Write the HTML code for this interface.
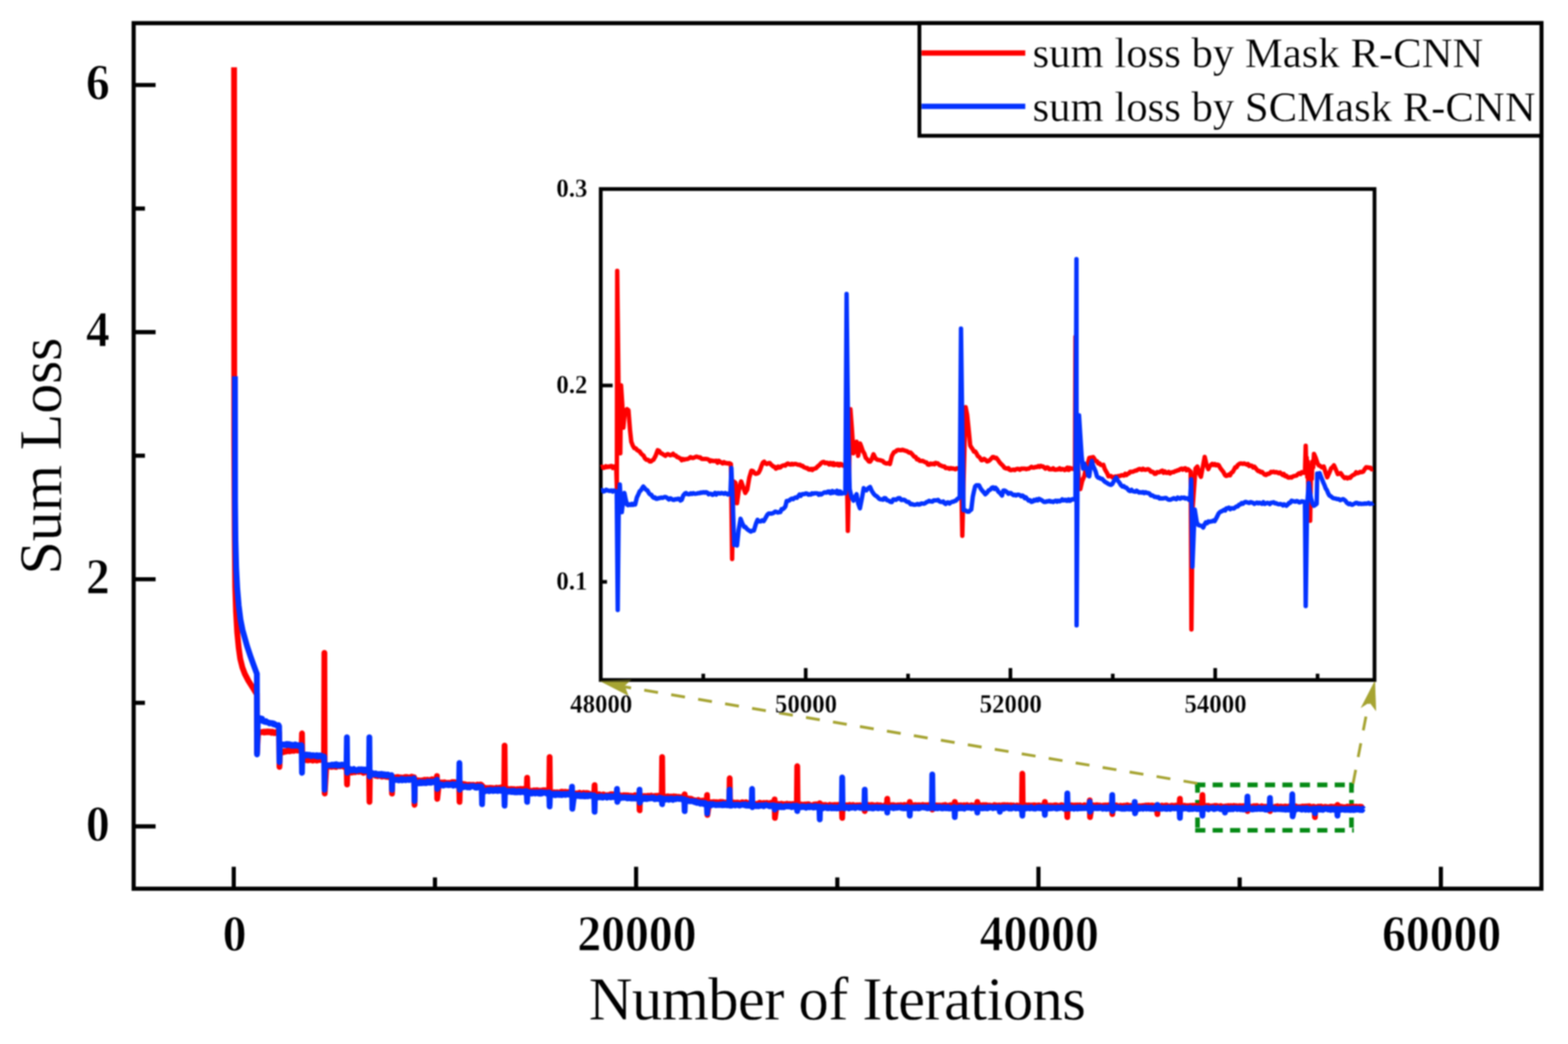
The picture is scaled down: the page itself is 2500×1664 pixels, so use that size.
<!DOCTYPE html>
<html lang="en">
<head>
<meta charset="utf-8">
<title>Sum Loss vs Number of Iterations</title>
<style>
html,body{margin:0;padding:0;background:#fff;}
body{width:2500px;height:1664px;overflow:hidden;}
svg{display:block;filter:blur(1px);}
</style>
</head>
<body>
<svg width="2500" height="1664" viewBox="0 0 2500 1664" role="img" aria-label="Sum loss versus number of iterations">
<rect width="2500" height="1664" fill="#fff"/>
<g fill="none" stroke="#058a14" stroke-width="7.4" stroke-dasharray="16.2 11.6">
<path d="M1905.6 1251 L2158.5 1251"/>
<path d="M1905.6 1323.4 L2158.5 1323.4"/>
<path d="M1909.3 1247.3 L1909.3 1327.1"/>
<path d="M2154.8 1247.3 L2154.8 1327.1"/>
</g>
<g fill="none" stroke-linejoin="round" stroke-linecap="butt" stroke-width="9.3">
<path stroke="#ff0000" d="M373.2 107.2 L373.5 700 L374.2 850 L375 935 L376.3 975 L378.2 1008 L380.5 1032 L383 1050 L386.5 1064 L390.3 1074 L396 1085 L403.6 1097 L408.5 1105 L409.5 1105 L409.7 1200 L411.5 1168 L418.7 1166.7 L419.8 1166.3 L420.9 1167.6 L422 1166.1 L423.1 1167.3 L424.2 1166.9 L425.3 1166.1 L426.4 1167.2 L427.5 1166 L428.6 1167 L429.7 1166.1 L430.8 1166.1 L431.9 1167 L433 1168 L434.1 1166.2 L435.2 1166.5 L436.3 1167.5 L437.4 1168.4 L438.5 1167.4 L439.6 1166.9 L440.7 1168.4 L441.8 1166 L442.9 1168.1 L444 1166.7 L444.8 1167.2 L445 1167.2 L445.6 1222.4 L446.2 1198.6 L448.6 1197.7 L449.7 1197.5 L450.8 1197.9 L451.9 1199 L453 1197.2 L454.1 1198.1 L455.2 1198.2 L456.3 1197.3 L457.4 1197.6 L458.5 1196.2 L459.6 1196.1 L460.7 1196.3 L461.8 1197.4 L462.9 1196.6 L464 1196.2 L465.1 1196.8 L466.2 1196.3 L467.3 1195.8 L468.4 1196.9 L469.5 1196.5 L470.6 1195.2 L471.7 1195.9 L472.8 1195.7 L473.9 1196.4 L475 1195.9 L476.1 1194.6 L477.2 1196.3 L478.3 1193.9 L479.4 1194.5 L480.5 1195.3 L480.7 1194.6 L480.9 1194.5 L481.5 1169 L482.1 1211 L484.5 1210.1 L485.6 1211 L486.7 1209.8 L487.8 1211.4 L488.9 1211.7 L490 1211.2 L491.1 1212 L492.2 1210.5 L493.3 1211.5 L494.4 1211.2 L495.5 1211.2 L496.6 1210.9 L497.7 1211.9 L498.8 1212.2 L499.9 1210.9 L501 1211.4 L502.1 1209.9 L503.2 1211.5 L504.3 1211.4 L505.4 1212.3 L506.5 1211.8 L507.6 1210.4 L508.7 1210.7 L509.8 1211.4 L510.9 1209.8 L512 1210.9 L513.1 1210.1 L514.2 1210 L515.3 1209.9 L516.4 1211.7 L516.6 1211 L517.2 1040.6 L517.7 1264.8 L520.4 1220.3 L521.5 1220.6 L522.6 1221 L523.7 1222.3 L524.8 1220.2 L525.9 1221.2 L527 1221.4 L528.1 1222.3 L529.2 1222.1 L530.3 1222.2 L531.4 1220.7 L532.5 1221.1 L533.6 1220.9 L534.7 1222.3 L535.8 1222.5 L536.9 1220.4 L538 1220.5 L539.1 1220.6 L540.2 1220.6 L541.3 1221.3 L542.4 1221.5 L543.5 1220.7 L544.6 1220 L545.7 1221.1 L546.8 1221 L547.9 1221.5 L549 1222.5 L550.1 1221.8 L551.2 1221.3 L552.3 1221.6 L552.5 1221.3 L552.7 1221.3 L553.3 1250.3 L553.9 1230.2 L556.3 1230.7 L557.4 1229.1 L558.5 1231.3 L559.6 1231 L560.7 1231.3 L561.8 1231.2 L562.9 1230.1 L564 1230.2 L565.1 1229.5 L566.2 1230.9 L567.3 1229.4 L568.4 1229.5 L569.5 1229.9 L570.6 1229.8 L571.7 1230.3 L572.8 1229.6 L573.9 1229.5 L575 1229.9 L576.1 1229.8 L577.2 1230.5 L578.3 1229.7 L579.4 1231.9 L580.5 1231.3 L581.6 1230.1 L582.7 1230.4 L583.8 1230.7 L584.9 1230.8 L586 1230.2 L587.1 1232.1 L588.2 1232.5 L588.4 1231.3 L588.5 1231.3 L589.1 1278.2 L589.8 1235 L592.1 1234.9 L593.2 1235.1 L594.4 1234.1 L595.5 1234.3 L596.6 1235 L597.7 1234.9 L598.8 1236.5 L599.9 1234.9 L601 1234.6 L602.1 1237.2 L603.2 1236.2 L604.3 1235.3 L605.4 1236.4 L606.5 1235.2 L607.6 1236.6 L608.7 1237.9 L609.8 1237.7 L610.9 1237.4 L612 1236.4 L613.1 1236.8 L614.2 1236.3 L615.3 1238 L616.4 1237.5 L617.5 1238.3 L618.6 1237.2 L619.7 1237 L620.8 1238.7 L621.9 1239.2 L623 1239 L624.1 1239 L624.2 1238.2 L624.4 1238.3 L625 1264.8 L625.6 1239.7 L628 1240.5 L629.1 1240.3 L630.2 1238.9 L631.3 1239.7 L632.4 1239.2 L633.5 1238.3 L634.6 1238.3 L635.7 1238.9 L636.8 1238.8 L637.9 1239.9 L639 1240.6 L640.1 1239.2 L641.2 1240.5 L642.3 1240.6 L643.4 1240.5 L644.5 1238.9 L645.6 1238.5 L646.7 1238.5 L647.8 1238.4 L648.9 1238.4 L650 1239.4 L651.1 1240.1 L652.2 1239.9 L653.3 1239 L654.4 1239.4 L655.5 1239.7 L656.6 1237.8 L657.7 1239.3 L658.8 1239.9 L659.9 1239.6 L660.1 1238.8 L660.3 1238.8 L660.9 1282.8 L661.5 1244.6 L663.9 1245.3 L665 1244.5 L666.1 1243.7 L667.2 1245.2 L668.3 1244 L669.4 1245.1 L670.5 1245.5 L671.6 1243.9 L672.7 1243.9 L673.8 1245.2 L674.9 1244.6 L676 1243.1 L677.1 1242.9 L678.2 1242.9 L679.3 1244.8 L680.4 1244.5 L681.5 1242.7 L682.6 1244.4 L683.7 1244.8 L684.8 1243.9 L685.9 1243 L687 1243.5 L688.1 1242.3 L689.2 1242 L690.3 1244.4 L691.4 1243.5 L692.5 1243.1 L693.6 1244.1 L694.7 1242.7 L695.8 1243.8 L696 1242.8 L696.6 1236.9 L697.1 1273.3 L699.8 1248.6 L700.9 1247 L702 1247.2 L703.1 1247.3 L704.2 1247.1 L705.3 1248 L706.4 1247.2 L707.5 1247.6 L708.6 1246.8 L709.7 1248.9 L710.8 1247.4 L711.9 1247.7 L713 1248 L714.1 1248.9 L715.2 1247.6 L716.3 1248.9 L717.4 1247.8 L718.5 1247.9 L719.6 1247.9 L720.7 1246.5 L721.8 1247.6 L722.9 1247 L724 1246.5 L725.1 1248.6 L726.2 1246.9 L727.3 1247.7 L728.4 1248.4 L729.5 1247.9 L730.6 1247.3 L731.7 1247.8 L731.9 1247.8 L732.1 1247.8 L732.7 1278.2 L733.3 1250.3 L735.7 1250.4 L736.8 1251.1 L737.9 1249.3 L739 1250.6 L740.1 1249.8 L741.2 1249.9 L742.3 1251.2 L743.4 1250.6 L744.5 1250.8 L745.6 1251.3 L746.7 1251.7 L747.8 1250.6 L748.9 1251 L750 1250.8 L751.1 1250.8 L752.2 1251.4 L753.3 1250.8 L754.4 1251 L755.5 1250.9 L756.6 1252.1 L757.7 1251.6 L758.8 1252.1 L759.9 1252.3 L761 1250.5 L762.1 1251.3 L763.2 1252.4 L764.3 1252.1 L765.4 1250.3 L766.5 1250.3 L767.6 1251.2 L767.8 1251.4 L771.6 1255.8 L772.7 1256.2 L773.8 1255.7 L774.9 1257.3 L776 1257.5 L777.1 1257.8 L778.2 1255.8 L779.3 1257.3 L780.4 1257.1 L781.5 1255.7 L782.6 1257.6 L783.7 1257.8 L784.8 1255.8 L785.9 1257.7 L787 1256.2 L788.1 1256.4 L789.2 1257.7 L790.3 1257.3 L791.4 1255.5 L792.5 1256.2 L793.6 1256.3 L794.7 1255.9 L795.8 1255.5 L796.9 1255.7 L798 1256.8 L799.1 1254.9 L800.2 1256.3 L801.3 1255.9 L802.4 1254.8 L803.5 1255.6 L803.7 1256 L803.9 1256 L804.5 1188.4 L805.1 1258.6 L807.5 1258.9 L808.6 1258.6 L809.7 1257.5 L810.8 1259.9 L811.9 1259.3 L813 1259.8 L814.1 1257.6 L815.2 1258 L816.3 1257.4 L817.4 1259.3 L818.5 1258 L819.6 1257.6 L820.7 1258.4 L821.8 1259.7 L822.9 1259.4 L824 1258 L825.1 1257.7 L826.2 1259.7 L827.3 1258.8 L828.4 1259.1 L829.5 1257.5 L830.6 1257.4 L831.7 1259.1 L832.8 1258.4 L833.9 1257.5 L835 1259.7 L836.1 1258.9 L837.2 1259.4 L838.3 1257.5 L839.4 1259.5 L839.6 1258.6 L839.8 1258.6 L840.4 1239.7 L841 1260.7 L843.4 1259.6 L844.5 1261.6 L845.6 1260.6 L846.7 1260.3 L847.8 1260.8 L848.9 1261.8 L850 1260.1 L851.1 1259.7 L852.2 1260.8 L853.3 1260 L854.4 1259.7 L855.5 1259.8 L856.6 1259.5 L857.7 1259.9 L858.8 1260.2 L859.9 1260.2 L861 1261.4 L862.1 1260.2 L863.2 1260.7 L864.3 1259.9 L865.4 1260.3 L866.5 1259.4 L867.6 1260.1 L868.7 1259.4 L869.8 1261.3 L870.9 1260.8 L872 1259.9 L873.1 1260.6 L874.2 1261.8 L875.3 1259.7 L875.5 1260.7 L875.7 1260.7 L876.3 1206.6 L876.9 1263.1 L879.3 1263.9 L880.4 1262.9 L881.5 1263.1 L882.6 1264 L883.7 1262.8 L884.8 1263.1 L885.9 1263.6 L887 1264.4 L888.1 1262.7 L889.2 1264 L890.3 1263.6 L891.4 1263.5 L892.5 1262.9 L893.6 1262.7 L894.7 1261.9 L895.8 1262.1 L896.9 1262 L898 1263.7 L899.1 1262.5 L900.2 1262.2 L901.3 1262 L902.4 1264 L903.5 1264.1 L904.6 1263.5 L905.7 1262.5 L906.8 1262.4 L907.9 1262.6 L909 1263 L910.1 1262.2 L911.2 1263 L911.4 1263.1 L915.2 1264.2 L916.3 1266.1 L917.4 1266.1 L918.5 1265 L919.6 1264.3 L920.7 1266.2 L921.8 1264.5 L922.9 1264.6 L924 1263.7 L925.1 1264.7 L926.2 1265 L927.3 1265.1 L928.4 1264.3 L929.5 1265.1 L930.6 1263.8 L931.7 1264.5 L932.8 1264.1 L933.9 1264.9 L935 1264 L936.1 1264 L937.2 1264.7 L938.3 1264.5 L939.4 1265.5 L940.5 1265.3 L941.6 1265.9 L942.7 1265.7 L943.8 1265.9 L944.9 1266.3 L946 1265.1 L947.1 1264.9 L947.2 1265.4 L947.4 1265.4 L948 1251.4 L948.6 1267 L951 1268.3 L952.1 1266.1 L953.2 1267.6 L954.4 1267.4 L955.5 1265.8 L956.6 1267.9 L957.7 1268 L958.8 1267.3 L959.9 1267.6 L961 1267.8 L962.1 1266.1 L963.2 1267.1 L964.3 1267 L965.4 1267.9 L966.5 1267.8 L967.6 1267.8 L968.7 1267.2 L969.8 1268 L970.9 1267.5 L972 1267.5 L973.1 1266.3 L974.2 1265.8 L975.3 1266 L976.4 1266.6 L977.5 1266 L978.6 1267.9 L979.7 1267.2 L980.8 1267.3 L981.9 1267.3 L983 1267.5 L983.1 1267 L986.9 1268.5 L988 1267.2 L989.1 1269.3 L990.2 1269.1 L991.3 1268.5 L992.4 1268.6 L993.5 1268.9 L994.6 1267.4 L995.7 1269.1 L996.8 1267.9 L997.9 1267.4 L999 1267.9 L1000.1 1269.1 L1001.2 1267.7 L1002.3 1269.1 L1003.4 1269.7 L1004.5 1268.5 L1005.6 1268.2 L1006.7 1268.4 L1007.8 1269 L1008.9 1269.2 L1010 1268.8 L1011.1 1268.9 L1012.2 1267.4 L1013.3 1267.6 L1014.4 1267.9 L1015.5 1269.1 L1016.6 1268 L1017.7 1268.7 L1018.8 1267.2 L1019 1268.5 L1019.2 1268.5 L1019.8 1291.5 L1020.4 1269.3 L1022.8 1268.2 L1023.9 1268.7 L1025 1269.7 L1026.1 1269.8 L1027.2 1269.8 L1028.3 1268.8 L1029.4 1269.3 L1030.5 1269.2 L1031.6 1269.2 L1032.7 1268.3 L1033.8 1270.3 L1034.9 1268.5 L1036 1270.5 L1037.1 1270.4 L1038.2 1268 L1039.3 1269.2 L1040.4 1270.1 L1041.5 1270.5 L1042.6 1269.2 L1043.7 1268.7 L1044.8 1268.5 L1045.9 1270.5 L1047 1268.5 L1048.1 1269.5 L1049.2 1268.4 L1050.3 1269.4 L1051.4 1270.5 L1052.5 1268.3 L1053.6 1270.1 L1054.7 1269.3 L1054.9 1269.3 L1055.1 1269.3 L1055.7 1206.6 L1056.3 1270.3 L1058.7 1271.3 L1059.8 1270.9 L1060.9 1269.6 L1062 1271.4 L1063.1 1270.3 L1064.2 1269.1 L1065.3 1269.1 L1066.4 1270.4 L1067.5 1270.3 L1068.6 1269.9 L1069.7 1269.5 L1070.8 1270 L1071.9 1270 L1073 1271.3 L1074.1 1269.2 L1075.2 1271.1 L1076.3 1271.4 L1077.4 1269.5 L1078.5 1271.6 L1079.6 1271.1 L1080.7 1271.6 L1081.8 1270 L1082.9 1270.2 L1084 1270.3 L1085.1 1271.8 L1086.2 1270.8 L1087.3 1270.2 L1088.4 1270.4 L1089.5 1270 L1090.6 1269.4 L1090.8 1270.6 L1091 1270.6 L1091.6 1266 L1092.2 1272.8 L1094.6 1271.8 L1095.7 1273.9 L1096.8 1272.6 L1097.9 1274.5 L1099 1272.9 L1100.1 1273.1 L1101.2 1274 L1102.3 1273.3 L1103.4 1274 L1104.5 1275.7 L1105.6 1275.7 L1106.7 1275.7 L1107.8 1275.4 L1108.9 1276.3 L1110 1276.6 L1111.1 1275.7 L1112.2 1276.4 L1113.3 1274.8 L1114.4 1276.8 L1115.5 1276.2 L1116.6 1277.2 L1117.7 1277.1 L1118.8 1276.4 L1119.9 1275.9 L1121 1278.4 L1122.1 1276.5 L1123.2 1277.6 L1124.3 1277.5 L1125.4 1277.5 L1126.5 1278.9 L1126.7 1278.3 L1127.3 1267.2 L1127.8 1298.8 L1130.5 1280.4 L1131.6 1278.6 L1132.7 1279.6 L1133.8 1278.7 L1134.9 1279.3 L1136 1278.9 L1137.1 1278.3 L1138.2 1278.3 L1139.3 1278.4 L1140.4 1280.3 L1141.5 1279.2 L1142.6 1278.5 L1143.7 1280.3 L1144.8 1280.5 L1145.9 1279.1 L1147 1278.3 L1148.1 1278.4 L1149.2 1278.1 L1150.3 1278.8 L1151.4 1278.1 L1152.5 1278.5 L1153.6 1278.6 L1154.7 1279.4 L1155.8 1280.2 L1156.9 1279.8 L1158 1279 L1159.1 1279 L1160.2 1279.3 L1161.3 1278.9 L1162.4 1278.8 L1162.6 1279.2 L1162.8 1279.2 L1163.4 1240.5 L1164 1279.9 L1166.4 1278.8 L1167.5 1279.3 L1168.6 1281.1 L1169.7 1278.9 L1170.8 1279.9 L1171.9 1280.2 L1173 1280.8 L1174.1 1279.2 L1175.2 1279.3 L1176.3 1279.2 L1177.4 1279.6 L1178.5 1279.8 L1179.6 1281.1 L1180.7 1280.8 L1181.8 1280.9 L1182.9 1278.7 L1184 1278.7 L1185.1 1280.4 L1186.2 1280.9 L1187.3 1279.8 L1188.4 1280.1 L1189.5 1278.6 L1190.6 1279.6 L1191.7 1281 L1192.8 1280.7 L1193.9 1280.8 L1195 1281.1 L1196.1 1279.2 L1197.2 1278.9 L1198.3 1279 L1198.5 1279.9 L1202.3 1280.8 L1203.4 1281.2 L1204.5 1281.8 L1205.6 1281.3 L1206.7 1281.1 L1207.8 1281.4 L1208.9 1280.6 L1210 1280.8 L1211.1 1279.5 L1212.2 1281.4 L1213.3 1280 L1214.4 1281.8 L1215.5 1281.1 L1216.6 1280.2 L1217.7 1279.7 L1218.8 1280.1 L1219.9 1281.1 L1221 1281.2 L1222.1 1279.7 L1223.2 1279.6 L1224.3 1280.8 L1225.4 1280.9 L1226.5 1280.4 L1227.6 1280 L1228.7 1281 L1229.8 1279.4 L1230.9 1280.2 L1232 1280.6 L1233.1 1281.9 L1234.2 1281.1 L1234.4 1280.7 L1235 1274.2 L1235.5 1303.6 L1238.2 1283.2 L1239.3 1282.1 L1240.4 1281.5 L1241.5 1281.5 L1242.6 1283.4 L1243.7 1282.7 L1244.8 1281.7 L1245.9 1281 L1247 1282.2 L1248.1 1282.7 L1249.2 1282 L1250.3 1281.6 L1251.4 1282.6 L1252.5 1283.3 L1253.6 1281.5 L1254.7 1281 L1255.8 1281.8 L1256.9 1282 L1258 1282.7 L1259.1 1281.4 L1260.2 1283 L1261.3 1282.8 L1262.4 1282.2 L1263.5 1281.4 L1264.6 1283.4 L1265.7 1281.7 L1266.8 1283 L1267.9 1281.5 L1269 1281.5 L1270.1 1282.9 L1270.3 1282.2 L1270.5 1282.2 L1271.1 1221.2 L1271.7 1283 L1274.1 1282.5 L1275.2 1284.2 L1276.3 1283 L1277.4 1282.2 L1278.5 1282.3 L1279.6 1282.8 L1280.7 1283.4 L1281.8 1284.2 L1282.9 1282.1 L1284 1282.7 L1285.1 1282.3 L1286.2 1284.2 L1287.3 1282.1 L1288.4 1281.8 L1289.5 1281.9 L1290.6 1282.7 L1291.7 1284 L1292.8 1284 L1293.9 1283.6 L1295 1284.3 L1296.1 1284.1 L1297.2 1282.6 L1298.3 1282.2 L1299.4 1284.1 L1300.5 1283.6 L1301.6 1281.8 L1302.7 1283.4 L1303.8 1282.7 L1304.9 1282.7 L1306 1282.6 L1306.2 1283 L1306.4 1283 L1307 1280.2 L1307.5 1284 L1310 1283.2 L1311 1282.7 L1312.1 1283.4 L1313.2 1283.6 L1314.3 1285.2 L1315.4 1283 L1316.5 1285.2 L1317.6 1283.3 L1318.7 1283.7 L1319.8 1284.9 L1320.9 1284.9 L1322 1283.9 L1323.1 1282.9 L1324.2 1284 L1325.3 1283.7 L1326.4 1285.1 L1327.5 1283.2 L1328.6 1283.7 L1329.7 1285.1 L1330.8 1282.8 L1331.9 1283.8 L1333 1284.9 L1334.1 1284.7 L1335.2 1282.9 L1336.3 1282.8 L1337.4 1282.9 L1338.5 1285.2 L1339.6 1283.4 L1340.7 1284.7 L1341.8 1285.1 L1342 1284.1 L1342.2 1284.1 L1342.8 1303.6 L1343.4 1284.1 L1345.8 1283.7 L1346.9 1283.5 L1348 1285.3 L1349.1 1284.4 L1350.2 1283.5 L1351.3 1284.6 L1352.4 1283.6 L1353.5 1283.5 L1354.6 1282.8 L1355.7 1284.8 L1356.8 1285.2 L1357.9 1284.4 L1359 1285.2 L1360.1 1282.9 L1361.2 1283.4 L1362.3 1284 L1363.4 1285.3 L1364.5 1285.3 L1365.6 1283.8 L1366.7 1283.5 L1367.8 1283.9 L1368.9 1284.1 L1370 1285.2 L1371.1 1283.3 L1372.2 1284.9 L1373.3 1284.7 L1374.4 1285 L1375.5 1284.8 L1376.6 1284.4 L1377.7 1283.7 L1377.9 1284.1 L1378.1 1284.1 L1378.7 1292.8 L1379.3 1284.1 L1381.7 1283.7 L1382.8 1283.8 L1383.9 1284.9 L1385 1283 L1386.1 1283.4 L1387.2 1284.8 L1388.3 1283.5 L1389.4 1283 L1390.5 1282.9 L1391.6 1284.3 L1392.7 1283.7 L1393.8 1285.4 L1394.9 1285.1 L1396 1285.4 L1397.1 1283.5 L1398.2 1283.1 L1399.3 1283.1 L1400.4 1284.2 L1401.5 1284.7 L1402.6 1284 L1403.7 1283.5 L1404.8 1284 L1405.9 1284.5 L1407 1284.6 L1408.1 1284.8 L1409.2 1285.1 L1410.3 1284.6 L1411.4 1283.2 L1412.5 1285.1 L1413.6 1283.6 L1413.8 1284.2 L1414 1284.2 L1414.6 1273.2 L1415.2 1284.2 L1417.6 1284.4 L1418.7 1283.9 L1419.8 1284.8 L1420.9 1283.4 L1422 1283.5 L1423.1 1283.5 L1424.2 1283.3 L1425.3 1285.2 L1426.4 1284.4 L1427.5 1283.8 L1428.6 1283.9 L1429.7 1285.5 L1430.8 1284.2 L1431.9 1283.5 L1433 1285 L1434.1 1284.6 L1435.2 1285.5 L1436.3 1283.2 L1437.4 1284.2 L1438.5 1285.1 L1439.6 1285.1 L1440.7 1285.3 L1441.8 1283 L1442.9 1283.7 L1444 1283.2 L1445.1 1283.4 L1446.2 1285.5 L1447.3 1284.5 L1448.4 1285.4 L1449.5 1283.9 L1449.7 1284.2 L1449.9 1284.2 L1450.5 1278.1 L1451.1 1284.2 L1453.5 1285.2 L1454.6 1284.1 L1455.7 1283.6 L1456.8 1285 L1457.9 1285.4 L1459 1283.2 L1460.1 1284.5 L1461.2 1284.6 L1462.3 1283.5 L1463.4 1283.9 L1464.5 1283.3 L1465.6 1283.5 L1466.7 1283.6 L1467.8 1284.5 L1468.9 1284.7 L1470 1283.5 L1471.1 1283 L1472.2 1283.8 L1473.3 1284.7 L1474.4 1283.5 L1475.5 1283.8 L1476.6 1283.5 L1477.7 1285.1 L1478.8 1284.4 L1479.9 1283.2 L1481 1283.3 L1482.1 1284 L1483.2 1284.4 L1484.3 1284.7 L1485.4 1283.2 L1485.6 1284.3 L1485.8 1284.3 L1486.4 1290.3 L1487 1284.3 L1489.4 1283.4 L1490.5 1284.8 L1491.6 1284.1 L1492.7 1283.7 L1493.8 1283.8 L1494.9 1285.5 L1496 1283.8 L1497.1 1284.5 L1498.2 1283.9 L1499.3 1284.1 L1500.4 1285.3 L1501.5 1285.6 L1502.6 1284 L1503.7 1283.5 L1504.8 1284.9 L1505.9 1283.6 L1507 1283 L1508.1 1285.4 L1509.2 1284.1 L1510.3 1285.2 L1511.4 1284.1 L1512.5 1285.3 L1513.6 1284.2 L1514.7 1283.5 L1515.8 1283.1 L1516.9 1284.5 L1518 1284.7 L1519.1 1285.4 L1520.2 1283.3 L1521.3 1284.7 L1521.5 1284.4 L1521.7 1284.4 L1522.3 1278.2 L1522.9 1284.4 L1525.3 1284 L1526.4 1284.4 L1527.5 1283.4 L1528.6 1283.8 L1529.7 1284.4 L1530.8 1285.5 L1531.9 1283.4 L1533 1284.3 L1534.1 1285.2 L1535.2 1285.6 L1536.3 1283.6 L1537.4 1283.4 L1538.5 1285.5 L1539.6 1285.6 L1540.7 1284.3 L1541.8 1283.2 L1542.9 1285.5 L1544 1284.1 L1545.1 1285.4 L1546.2 1284.7 L1547.3 1285.2 L1548.4 1283.5 L1549.5 1285.1 L1550.6 1283.7 L1551.7 1284.2 L1552.8 1285.3 L1553.9 1285.3 L1555 1283.6 L1556.1 1283.7 L1557.2 1284.2 L1557.4 1284.4 L1557.6 1284.4 L1558.2 1278.2 L1558.8 1284.4 L1561.2 1284.5 L1562.3 1284.1 L1563.4 1283.4 L1564.5 1283.8 L1565.6 1285 L1566.7 1285.5 L1567.8 1283.2 L1568.9 1284.6 L1570 1285.1 L1571.1 1283.2 L1572.2 1285.3 L1573.3 1283.4 L1574.4 1284.7 L1575.5 1284.6 L1576.6 1284.8 L1577.7 1283.9 L1578.8 1284.2 L1579.9 1284.7 L1581 1284.3 L1582.1 1284.9 L1583.2 1284.3 L1584.3 1284.3 L1585.4 1283.2 L1586.5 1284.8 L1587.6 1284.4 L1588.7 1283.8 L1589.8 1285.1 L1590.9 1285.2 L1592 1284.4 L1593.1 1283.6 L1593.3 1284.5 L1597.1 1284.4 L1598.2 1283.5 L1599.3 1283.5 L1600.4 1284.3 L1601.5 1283.4 L1602.6 1284.3 L1603.7 1284.5 L1604.8 1283.3 L1605.9 1284.8 L1607 1283.4 L1608.1 1285.1 L1609.2 1285.2 L1610.3 1284.5 L1611.4 1283.3 L1612.5 1284.5 L1613.6 1284.2 L1614.7 1285.7 L1615.8 1283.6 L1616.9 1285.4 L1618 1285.8 L1619.1 1285.1 L1620.2 1285.3 L1621.3 1283.7 L1622.4 1285.8 L1623.5 1284.5 L1624.6 1285.7 L1625.7 1285.6 L1626.8 1283.7 L1627.9 1285.3 L1629 1285.6 L1629.2 1284.5 L1629.4 1284.5 L1630 1233.2 L1630.6 1284.5 L1633 1283.4 L1634.1 1284.1 L1635.2 1285.2 L1636.3 1283.7 L1637.4 1285.6 L1638.5 1284 L1639.6 1285.4 L1640.7 1283.6 L1641.8 1284.6 L1642.9 1285.6 L1644 1283.8 L1645.1 1283.9 L1646.2 1284.6 L1647.3 1284.1 L1648.4 1283.4 L1649.5 1283.7 L1650.6 1283.7 L1651.7 1285.7 L1652.8 1285 L1653.9 1285.6 L1655 1283.7 L1656.1 1285.3 L1657.2 1283.6 L1658.3 1284.7 L1659.4 1284.9 L1660.5 1284.2 L1661.6 1285.5 L1662.7 1284.7 L1663.8 1284.8 L1664.9 1285.6 L1665.1 1284.6 L1665.3 1284.6 L1665.9 1278.2 L1666.5 1284.6 L1668.9 1283.6 L1670 1285.9 L1671 1284.9 L1672.1 1284.3 L1673.2 1285.4 L1674.3 1284 L1675.4 1285.9 L1676.5 1284.8 L1677.6 1284.2 L1678.7 1285.3 L1679.8 1284.5 L1680.9 1283.8 L1682 1285.2 L1683.1 1283.4 L1684.2 1285.4 L1685.3 1284 L1686.4 1285 L1687.5 1285.9 L1688.6 1284.8 L1689.7 1285 L1690.8 1284.1 L1691.9 1283.3 L1693 1283.4 L1694.1 1283.7 L1695.2 1284.9 L1696.3 1284.5 L1697.4 1284.7 L1698.5 1285.7 L1699.6 1283.7 L1700.7 1283.9 L1700.9 1284.6 L1701.1 1284.6 L1701.7 1302.4 L1702.3 1284.6 L1704.7 1285 L1705.8 1283.4 L1706.9 1283.4 L1708 1284.3 L1709.1 1283.6 L1710.2 1284.3 L1711.3 1283.9 L1712.4 1284.9 L1713.5 1284.9 L1714.6 1283.9 L1715.7 1285 L1716.8 1284.6 L1717.9 1283.7 L1719 1285.8 L1720.1 1284 L1721.2 1283.8 L1722.3 1283.6 L1723.4 1285 L1724.5 1285.6 L1725.6 1285.4 L1726.7 1284.4 L1727.8 1284.1 L1728.9 1283.4 L1730 1285.1 L1731.1 1284.9 L1732.2 1284.3 L1733.3 1285.1 L1734.4 1284.5 L1735.5 1285.8 L1736.6 1285.3 L1736.8 1284.7 L1737.4 1275.7 L1737.9 1302.4 L1740.6 1284.1 L1741.7 1285.8 L1742.8 1283.5 L1743.9 1284.8 L1745 1284.5 L1746.1 1284 L1747.2 1283.6 L1748.3 1285.4 L1749.4 1283.5 L1750.5 1284.9 L1751.6 1285.9 L1752.7 1283.8 L1753.8 1283.9 L1754.9 1285 L1756 1284.7 L1757.1 1285.1 L1758.2 1285.5 L1759.3 1283.9 L1760.4 1284.2 L1761.5 1284.2 L1762.6 1283.6 L1763.7 1285.8 L1764.8 1285.5 L1765.9 1285.3 L1767 1283.5 L1768.1 1285.6 L1769.2 1285.4 L1770.3 1284.7 L1771.4 1285.4 L1772.5 1284.6 L1772.7 1284.8 L1772.9 1284.8 L1773.5 1297.5 L1774.1 1284.8 L1776.5 1284 L1777.6 1283.7 L1778.7 1284.1 L1779.8 1283.6 L1780.9 1284.3 L1782 1285.4 L1783.1 1285.3 L1784.2 1285.7 L1785.3 1285.3 L1786.4 1284.2 L1787.5 1284.9 L1788.6 1284.6 L1789.7 1285.5 L1790.8 1284.8 L1791.9 1284.2 L1793 1285.2 L1794.1 1286 L1795.2 1284.1 L1796.3 1285.8 L1797.4 1283.5 L1798.5 1284.2 L1799.6 1284.1 L1800.7 1285.4 L1801.8 1286 L1802.9 1285.5 L1804 1284.4 L1805.1 1285.8 L1806.2 1284.4 L1807.3 1284.2 L1808.4 1285.9 L1808.6 1284.8 L1812.4 1285.2 L1813.5 1285.4 L1814.6 1285.3 L1815.7 1286.1 L1816.8 1284.8 L1817.9 1285.8 L1819 1285.4 L1820.1 1285.8 L1821.2 1284.8 L1822.3 1285.5 L1823.4 1285.1 L1824.5 1284.4 L1825.6 1284.2 L1826.7 1285.3 L1827.8 1283.9 L1828.9 1286 L1830 1284 L1831.1 1283.7 L1832.2 1284 L1833.3 1286.1 L1834.4 1284.6 L1835.5 1284.1 L1836.6 1283.8 L1837.7 1283.8 L1838.8 1285.5 L1839.9 1285.4 L1841 1285.5 L1842.1 1285.6 L1843.2 1283.9 L1844.3 1285.3 L1844.5 1285 L1844.7 1285 L1845.3 1297.5 L1845.9 1285.1 L1848.3 1284.7 L1849.4 1285.9 L1850.5 1285.9 L1851.6 1286.1 L1852.7 1284 L1853.8 1286 L1854.9 1286.2 L1856 1286.3 L1857.1 1284.1 L1858.2 1284.3 L1859.3 1284.1 L1860.4 1283.9 L1861.5 1286 L1862.6 1285.9 L1863.7 1285.5 L1864.8 1286 L1865.9 1285.5 L1867 1284.6 L1868.1 1284.1 L1869.2 1284.1 L1870.3 1285.8 L1871.4 1284.4 L1872.5 1284.7 L1873.6 1285 L1874.7 1284 L1875.8 1284.6 L1876.9 1284.7 L1878 1285.8 L1879.1 1284.9 L1880.2 1284.8 L1880.4 1285.2 L1880.6 1285.2 L1881.2 1273.2 L1881.8 1285.3 L1884.2 1286.5 L1885.3 1285.3 L1886.4 1286.2 L1887.5 1285.6 L1888.6 1284.1 L1889.7 1285.1 L1890.8 1285.1 L1891.9 1286 L1893 1284.9 L1894.1 1285.8 L1895.2 1285.4 L1896.3 1284.6 L1897.4 1286.3 L1898.5 1284.3 L1899.6 1286.2 L1900.7 1284.5 L1901.8 1284.1 L1902.9 1284.6 L1904 1286 L1905.1 1286.6 L1906.2 1284.1 L1907.3 1285.4 L1908.4 1285.4 L1909.5 1286.2 L1910.6 1284.6 L1911.7 1285.4 L1912.8 1285 L1913.9 1286.3 L1915 1284.8 L1916.1 1286.6 L1916.3 1285.4 L1916.5 1285.4 L1917.1 1267.2 L1917.7 1285.4 L1920.1 1284.9 L1921.2 1284.7 L1922.3 1286 L1923.4 1285.5 L1924.5 1284.5 L1925.6 1285.8 L1926.7 1284.4 L1927.8 1286.2 L1928.9 1286 L1930 1286.2 L1931.1 1285.8 L1932.2 1285.1 L1933.3 1285.3 L1934.4 1285.3 L1935.5 1286.5 L1936.6 1284.5 L1937.7 1286.6 L1938.8 1284.3 L1939.9 1284.8 L1941 1284.9 L1942.1 1286.6 L1943.2 1285.6 L1944.3 1285.3 L1945.4 1286.6 L1946.5 1284.9 L1947.6 1285.5 L1948.7 1285.7 L1949.8 1286.3 L1950.9 1286.3 L1952 1286 L1952.2 1285.6 L1956 1285.2 L1957.1 1285.2 L1958.2 1284.8 L1959.3 1286.6 L1960.4 1286.1 L1961.5 1286.3 L1962.6 1284.8 L1963.7 1285.5 L1964.8 1286.4 L1965.9 1285.9 L1967 1284.7 L1968.1 1285.6 L1969.2 1286.7 L1970.3 1285 L1971.4 1284.9 L1972.5 1285.2 L1973.6 1286.3 L1974.7 1286.6 L1975.8 1284.9 L1976.9 1284.9 L1978 1285.1 L1979.1 1285.3 L1980.2 1285.8 L1981.3 1284.9 L1982.4 1285.3 L1983.5 1285 L1984.6 1287 L1985.7 1286.4 L1986.8 1284.8 L1987.9 1287 L1988.1 1285.8 L1988.3 1285.8 L1988.9 1292.8 L1989.5 1285.8 L1991.9 1284.8 L1993 1285.5 L1994.1 1287.1 L1995.2 1286.6 L1996.3 1286.5 L1997.4 1285.7 L1998.5 1285.1 L1999.6 1286.2 L2000.7 1284.9 L2001.8 1285.1 L2002.9 1285.6 L2004 1284.7 L2005.1 1285.6 L2006.2 1286.7 L2007.3 1286.4 L2008.4 1285.9 L2009.5 1286.3 L2010.6 1285.8 L2011.7 1285 L2012.8 1286.2 L2013.9 1285.7 L2015 1286.6 L2016.1 1287 L2017.2 1285.8 L2018.3 1286.2 L2019.4 1286.6 L2020.5 1285.8 L2021.6 1285.3 L2022.7 1286.6 L2023.8 1287 L2024 1286 L2024.2 1286 L2024.8 1292.8 L2025.3 1286 L2027.8 1286.7 L2028.8 1286.6 L2029.9 1287 L2031 1286.5 L2032.1 1286.4 L2033.2 1285.9 L2034.3 1285.6 L2035.4 1286.4 L2036.5 1285 L2037.6 1285.9 L2038.7 1286.8 L2039.8 1286.7 L2040.9 1286.4 L2042 1285.5 L2043.1 1285.9 L2044.2 1286 L2045.3 1286.4 L2046.4 1285.9 L2047.5 1286.6 L2048.6 1287.3 L2049.7 1285.3 L2050.8 1286.6 L2051.9 1286.9 L2053 1285.9 L2054.1 1286.1 L2055.2 1287.4 L2056.3 1285 L2057.4 1286.3 L2058.5 1285.3 L2059.6 1286.9 L2059.8 1286.2 L2063.6 1287.4 L2064.7 1286.3 L2065.8 1285.2 L2066.9 1286.4 L2068 1286.4 L2069.1 1286.8 L2070.2 1286.3 L2071.3 1286.6 L2072.4 1287.1 L2073.5 1286.3 L2074.6 1286.1 L2075.7 1287.5 L2076.8 1285.5 L2077.9 1286.8 L2079 1286 L2080.1 1287 L2081.2 1285.3 L2082.3 1287.6 L2083.4 1286 L2084.5 1285.2 L2085.6 1285.8 L2086.7 1286.1 L2087.8 1285.1 L2088.9 1286.2 L2090 1286.2 L2091.1 1286.9 L2092.2 1286 L2093.3 1285.8 L2094.4 1285.7 L2095.5 1287 L2095.7 1286.4 L2095.9 1286.4 L2096.5 1302.4 L2097.1 1286.4 L2099.5 1287.6 L2100.6 1286.5 L2101.7 1285.7 L2102.8 1287.2 L2103.9 1286.2 L2105 1285.7 L2106.1 1285.5 L2107.2 1287.2 L2108.3 1287.3 L2109.4 1286.8 L2110.5 1286.4 L2111.6 1286.6 L2112.7 1285.8 L2113.8 1287.7 L2114.9 1286.1 L2116 1286.9 L2117.1 1287.3 L2118.2 1287.3 L2119.3 1286.4 L2120.4 1286 L2121.5 1286.7 L2122.6 1285.6 L2123.7 1287.4 L2124.8 1286.2 L2125.9 1287.5 L2127 1286 L2128.1 1286.3 L2129.2 1285.9 L2130.3 1286.4 L2131.4 1285.8 L2131.6 1286.6 L2131.8 1286.6 L2132.4 1282.9 L2133 1286.6 L2135.4 1285.3 L2136.5 1287.2 L2137.6 1286.1 L2138.7 1286 L2139.8 1286.1 L2140.9 1286.6 L2142 1286.5 L2143.1 1287 L2144.2 1287.1 L2145.3 1286.3 L2146.4 1287.8 L2147.5 1287.6 L2148.6 1285.5 L2149.7 1287.5 L2150.8 1287.8 L2151.9 1287.4 L2153 1285.8 L2154.1 1287.6 L2155.2 1287.1 L2156.3 1285.5 L2157.4 1285.5 L2158.5 1287.9 L2159.6 1287.1 L2160.7 1286.1 L2161.8 1285.7 L2162.9 1285.8 L2164 1286.1 L2165.1 1287.5 L2166.2 1286.4 L2167.3 1285.9 L2168.4 1287.8 L2169.5 1287.6 L2170.6 1285.9 L2171.7 1287.8 L2172.8 1287.1 L2173.7 1286.8"/>
<path stroke="#0433ff" d="M374.6 599.8 L374.8 800 L375.4 860 L376.6 905 L378.3 938 L380.6 965 L383.5 988 L386.7 1004 L389.5 1014 L394 1030 L399 1045 L404 1059 L408.8 1072 L409.6 1074 L409.8 1202.5 L411 1150 L413.5 1144.5 L418 1145.5 L418.7 1149.2 L419.8 1149.2 L420.9 1150.2 L422 1150.3 L423.1 1150.8 L424.2 1149.5 L425.3 1151.2 L426.4 1151.1 L427.5 1152 L428.6 1151.6 L429.7 1153.1 L430.8 1152.7 L431.9 1152.3 L433 1152.6 L434.1 1152.7 L435.2 1154 L436.3 1153.2 L437.4 1154.7 L438.5 1154.2 L439.6 1155.5 L440.7 1155.8 L441.8 1156.3 L442.9 1157.5 L444 1155.7 L444.8 1157.2 L445 1157.5 L445.6 1214.8 L446.2 1186.2 L448.6 1187.1 L449.7 1186.2 L450.8 1186.5 L451.9 1186.9 L453 1187.4 L454.1 1186.3 L455.2 1186.5 L456.3 1187.9 L457.4 1185.7 L458.5 1187.3 L459.6 1187.3 L460.7 1185.8 L461.8 1187.4 L462.9 1187.7 L464 1188.4 L465.1 1186.9 L466.2 1188.7 L467.3 1187.5 L468.4 1187.5 L469.5 1188.7 L470.6 1186.5 L471.7 1188.4 L472.8 1188.2 L473.9 1187.6 L475 1189 L476.1 1187.8 L477.2 1188.1 L478.3 1188.3 L479.4 1189.1 L480.5 1187.7 L480.7 1188.4 L480.9 1188.5 L481.5 1231.8 L482.1 1202.7 L484.5 1202.5 L485.6 1202.6 L486.7 1203.1 L487.8 1203.9 L488.9 1202.6 L490 1204.1 L491.1 1203.1 L492.2 1203.5 L493.3 1203 L494.4 1203.7 L495.5 1205 L496.6 1204.3 L497.7 1204.8 L498.8 1203.7 L499.9 1203.8 L501 1203.8 L502.1 1204.7 L503.2 1204.9 L504.3 1205.4 L505.4 1203.6 L506.5 1205.5 L507.6 1206 L508.7 1205.2 L509.8 1204.1 L510.9 1204.8 L512 1204.2 L513.1 1204.8 L514.2 1206.8 L515.3 1206.1 L516.4 1206.3 L516.6 1205.9 L516.8 1206 L517.4 1258.8 L518 1219.3 L520.4 1220.1 L521.5 1220.4 L522.6 1219.6 L523.7 1219.6 L524.8 1219.6 L525.9 1219.8 L527 1219.6 L528.1 1219.8 L529.2 1218.6 L530.3 1219.7 L531.4 1219.2 L532.5 1220 L533.6 1218.3 L534.7 1218.5 L535.8 1218.1 L536.9 1220 L538 1220.4 L539.1 1219.7 L540.2 1219 L541.3 1220.1 L542.4 1220 L543.5 1219.5 L544.6 1218.7 L545.7 1218.8 L546.8 1219.1 L547.9 1218.8 L549 1219.1 L550.1 1219.7 L551.2 1220.4 L552.3 1218.1 L552.5 1219.3 L553.1 1175.1 L553.6 1231.8 L556.3 1226.9 L557.4 1225.5 L558.5 1225.8 L559.6 1227.6 L560.7 1227 L561.8 1228 L562.9 1226.8 L564 1225.7 L565.1 1226.7 L566.2 1227.3 L567.3 1228.2 L568.4 1228.4 L569.5 1227.1 L570.6 1227 L571.7 1226.2 L572.8 1227.6 L573.9 1226.5 L575 1226.4 L576.1 1226.1 L577.2 1226.1 L578.3 1227.9 L579.4 1226.5 L580.5 1228.7 L581.6 1226.5 L582.7 1228.5 L583.8 1226.7 L584.9 1226.4 L586 1228.3 L587.1 1227.1 L588.2 1228.4 L588.4 1227.8 L588.9 1175.1 L589.4 1237.8 L592.1 1232.2 L593.2 1231.9 L594.4 1233.9 L595.5 1233.9 L596.6 1234.4 L597.7 1234.1 L598.8 1232.6 L599.9 1234.1 L601 1234.4 L602.1 1233.9 L603.2 1235.2 L604.3 1233.6 L605.4 1235.5 L606.5 1235 L607.6 1233.3 L608.7 1233.4 L609.8 1235.2 L610.9 1235.7 L612 1233.9 L613.1 1234.6 L614.2 1235.8 L615.3 1234.4 L616.4 1236.4 L617.5 1235.5 L618.6 1234.5 L619.7 1235.4 L620.8 1236.1 L621.9 1235.8 L623 1236.6 L624.1 1235.3 L624.2 1236.2 L624.4 1236.3 L625 1258.8 L625.6 1242.9 L628 1243.7 L629.1 1242.5 L630.2 1243.2 L631.3 1243.2 L632.4 1242.6 L633.5 1242.5 L634.6 1243.5 L635.7 1243.9 L636.8 1243.4 L637.9 1242.8 L639 1242.1 L640.1 1241.4 L641.2 1243.8 L642.3 1243 L643.4 1243.3 L644.5 1242 L645.6 1242.7 L646.7 1243.6 L647.8 1243.2 L648.9 1242.6 L650 1241.8 L651.1 1242.1 L652.2 1243.3 L653.3 1241.9 L654.4 1242.7 L655.5 1242.4 L656.6 1243.1 L657.7 1242.9 L658.8 1241.5 L659.9 1240.7 L660.1 1242 L660.3 1242 L660.9 1276.8 L661.5 1247.8 L663.9 1247.2 L665 1247.6 L666.1 1247.9 L667.2 1248.5 L668.3 1248.6 L669.4 1246.3 L670.5 1248.3 L671.6 1248.2 L672.7 1248.3 L673.8 1247.5 L674.9 1246.6 L676 1248.1 L677.1 1247.9 L678.2 1247.5 L679.3 1248.1 L680.4 1246.5 L681.5 1245.8 L682.6 1246.9 L683.7 1247.5 L684.8 1245.9 L685.9 1247.3 L687 1247.7 L688.1 1245.8 L689.2 1246.7 L690.3 1246.8 L691.4 1246.2 L692.5 1245.5 L693.6 1245.5 L694.7 1246.8 L695.8 1246.8 L696 1246 L696.6 1242.9 L697.1 1257.6 L699.8 1250.9 L700.9 1249.9 L702 1251.8 L703.1 1251.7 L704.2 1250.3 L705.3 1251.2 L706.4 1252 L707.5 1252 L708.6 1251.1 L709.7 1250.9 L710.8 1251.2 L711.9 1250.2 L713 1250.2 L714.1 1250.2 L715.2 1251.5 L716.3 1250.6 L717.4 1251.2 L718.5 1250.7 L719.6 1251 L720.7 1250.1 L721.8 1249.8 L722.9 1252.3 L724 1250.7 L725.1 1250 L726.2 1251.3 L727.3 1251.7 L728.4 1250.1 L729.5 1251.3 L730.6 1250.6 L731.7 1251.1 L731.9 1251 L732.5 1216.2 L733 1258.8 L735.7 1252.3 L736.8 1252.3 L737.9 1254.8 L739 1254.6 L740.1 1253.6 L741.2 1253.9 L742.3 1253.1 L743.4 1254.5 L744.5 1253.6 L745.6 1255 L746.7 1254.6 L747.8 1254.7 L748.9 1255.1 L750 1253.3 L751.1 1252.8 L752.2 1253.3 L753.3 1253.3 L754.4 1253 L755.5 1253 L756.6 1254.3 L757.7 1255.2 L758.8 1254.2 L759.9 1255.5 L761 1255.4 L762.1 1253.2 L763.2 1254.7 L764.3 1254.2 L765.4 1253.5 L766.5 1255.7 L767.6 1253.9 L767.8 1254.6 L768 1254.6 L768.6 1281.8 L769.2 1260.1 L771.6 1260.3 L772.7 1260.5 L773.8 1261.2 L774.9 1260.5 L776 1259.7 L777.1 1259.8 L778.2 1259 L779.3 1261.1 L780.4 1261.1 L781.5 1259.1 L782.6 1258.6 L783.7 1259.1 L784.8 1259.4 L785.9 1260.8 L787 1260.7 L788.1 1260.5 L789.2 1258.4 L790.3 1260.3 L791.4 1260.1 L792.5 1259.9 L793.6 1260.8 L794.7 1258.3 L795.8 1258.5 L796.9 1260.1 L798 1260.5 L799.1 1259.8 L800.2 1258.8 L801.3 1259.5 L802.4 1259.9 L803.5 1258.2 L803.7 1259.2 L803.9 1259.2 L804.5 1284.2 L805.1 1261.8 L807.5 1261.3 L808.6 1261.2 L809.7 1260.8 L810.8 1261.8 L811.9 1260.9 L813 1261.1 L814.1 1260.9 L815.2 1262.3 L816.3 1260.5 L817.4 1262.4 L818.5 1261 L819.6 1260.6 L820.7 1262.9 L821.8 1261.1 L822.9 1262.9 L824 1262.8 L825.1 1262.8 L826.2 1260.9 L827.3 1261.7 L828.4 1260.8 L829.5 1262.9 L830.6 1262.7 L831.7 1262.1 L832.8 1261.7 L833.9 1261.4 L835 1262.6 L836.1 1261.7 L837.2 1262.1 L838.3 1260.9 L839.4 1261.1 L839.6 1261.8 L839.8 1261.8 L840.4 1278.2 L841 1263.9 L843.4 1262.7 L844.5 1264.5 L845.6 1264 L846.7 1263 L847.8 1264.9 L848.9 1263.3 L850 1263.7 L851.1 1263 L852.2 1263.3 L853.3 1264.8 L854.4 1263.5 L855.5 1263 L856.6 1263.9 L857.7 1263.4 L858.8 1264.9 L859.9 1262.9 L861 1265.1 L862.1 1262.7 L863.2 1264.9 L864.3 1264.3 L865.4 1263.1 L866.5 1263.8 L867.6 1263.3 L868.7 1263.3 L869.8 1263.1 L870.9 1263.5 L872 1265.2 L873.1 1265.2 L874.2 1265 L875.3 1262.9 L875.5 1263.9 L875.7 1263.9 L876.3 1285.4 L876.9 1266.3 L879.3 1265.8 L880.4 1267.3 L881.5 1265.1 L882.6 1266.9 L883.7 1265.8 L884.8 1267.5 L885.9 1265 L887 1267.1 L888.1 1265.9 L889.2 1265.4 L890.3 1265 L891.4 1267.2 L892.5 1266.4 L893.6 1265.5 L894.7 1266.1 L895.8 1267.4 L896.9 1265.6 L898 1266.5 L899.1 1265.4 L900.2 1265.5 L901.3 1267 L902.4 1266.9 L903.5 1265.5 L904.6 1265.2 L905.7 1265.2 L906.8 1266.6 L907.9 1266.3 L909 1265.7 L910.1 1265.5 L911.2 1266.6 L911.4 1266.3 L912 1253.8 L912.5 1289.1 L915.2 1268.6 L916.3 1268.9 L917.4 1268.3 L918.5 1267.3 L919.6 1267 L920.7 1268.7 L921.8 1267.9 L922.9 1268.8 L924 1267 L925.1 1269 L926.2 1267.8 L927.3 1269.1 L928.4 1269.2 L929.5 1268.3 L930.6 1267 L931.7 1269.4 L932.8 1268.3 L933.9 1269.3 L935 1267.8 L936.1 1267.6 L937.2 1269.3 L938.3 1268.1 L939.4 1267.6 L940.5 1268.1 L941.6 1268.7 L942.7 1267.2 L943.8 1268.6 L944.9 1268.4 L946 1268.6 L947.1 1267.6 L947.2 1268.6 L947.4 1268.6 L948 1293.8 L948.6 1270.2 L951 1270.8 L952.1 1271 L953.2 1271.2 L954.4 1269.7 L955.5 1270.7 L956.6 1269.9 L957.7 1270.9 L958.8 1269.1 L959.9 1271.2 L961 1271.4 L962.1 1270.2 L963.2 1270.2 L964.3 1270.3 L965.4 1270.3 L966.5 1269 L967.6 1271.4 L968.7 1269.5 L969.8 1269.4 L970.9 1269.2 L972 1269.6 L973.1 1271 L974.2 1269 L975.3 1269.2 L976.4 1270.7 L977.5 1269.4 L978.6 1268.9 L979.7 1270.5 L980.8 1270.4 L981.9 1270.3 L983 1270.7 L983.1 1270.2 L983.7 1257.5 L984.2 1278.2 L986.9 1270.7 L988 1272.7 L989.1 1272.3 L990.2 1270.5 L991.3 1270.7 L992.4 1271.7 L993.5 1271.7 L994.6 1271.1 L995.7 1270.7 L996.8 1271.5 L997.9 1270.8 L999 1271.9 L1000.1 1272.6 L1001.2 1270.8 L1002.3 1271.9 L1003.4 1272.3 L1004.5 1270.8 L1005.6 1272.5 L1006.7 1272.8 L1007.8 1271.4 L1008.9 1271.5 L1010 1272.6 L1011.1 1271.8 L1012.2 1271.4 L1013.3 1272.8 L1014.4 1272.4 L1015.5 1271.3 L1016.6 1271 L1017.7 1271.3 L1018.8 1271.5 L1019 1271.7 L1019.6 1258.7 L1020.1 1279.4 L1022.8 1273.8 L1023.9 1273.3 L1025 1273.6 L1026.1 1273.3 L1027.2 1273.4 L1028.3 1271.3 L1029.4 1272.5 L1030.5 1273.7 L1031.6 1273.6 L1032.7 1271.8 L1033.8 1272.3 L1034.9 1272.8 L1036 1272.1 L1037.1 1272.6 L1038.2 1271.4 L1039.3 1272.3 L1040.4 1272.5 L1041.5 1271.3 L1042.6 1271.6 L1043.7 1273.7 L1044.8 1273.2 L1045.9 1273.6 L1047 1272.8 L1048.1 1273.3 L1049.2 1273.5 L1050.3 1273.5 L1051.4 1271.3 L1052.5 1272.9 L1053.6 1271.9 L1054.7 1273 L1054.9 1272.5 L1055.1 1272.5 L1055.7 1281.8 L1056.3 1273.5 L1058.7 1272.9 L1059.8 1273.6 L1060.9 1274.6 L1062 1273.9 L1063.1 1272.9 L1064.2 1273.6 L1065.3 1273.4 L1066.4 1274.8 L1067.5 1273 L1068.6 1273.1 L1069.7 1274 L1070.8 1272.6 L1071.9 1273.9 L1073 1274.8 L1074.1 1273.7 L1075.2 1273.1 L1076.3 1273.6 L1077.4 1273.8 L1078.5 1272.8 L1079.6 1272.7 L1080.7 1272.8 L1081.8 1273.2 L1082.9 1273.5 L1084 1273.2 L1085.1 1273.1 L1086.2 1272.7 L1087.3 1273.9 L1088.4 1274.7 L1089.5 1274.1 L1090.6 1274 L1090.8 1273.8 L1091 1273.8 L1091.6 1292.8 L1092.2 1276 L1094.6 1276.4 L1095.7 1275.4 L1096.8 1276.9 L1097.9 1276.5 L1099 1276.9 L1100.1 1277.2 L1101.2 1277.1 L1102.3 1276.8 L1103.4 1276.8 L1104.5 1277 L1105.6 1277.9 L1106.7 1277.8 L1107.8 1278.5 L1108.9 1277.2 L1110 1278.2 L1111.1 1279.8 L1112.2 1278.3 L1113.3 1279.3 L1114.4 1279.4 L1115.5 1279 L1116.6 1281 L1117.7 1279.4 L1118.8 1280.8 L1119.9 1279.4 L1121 1279.4 L1122.1 1281.6 L1123.2 1280.7 L1124.3 1279.9 L1125.4 1281 L1126.5 1281.3 L1126.7 1281.5 L1126.9 1281.6 L1127.5 1296.3 L1128.1 1282.4 L1130.5 1283 L1131.6 1281.4 L1132.7 1281.7 L1133.8 1283.6 L1134.9 1283 L1136 1281.5 L1137.1 1282 L1138.2 1282 L1139.3 1282.9 L1140.4 1282.7 L1141.5 1283.3 L1142.6 1283.2 L1143.7 1282.4 L1144.8 1283 L1145.9 1283 L1147 1283.1 L1148.1 1282.3 L1149.2 1283.1 L1150.3 1282.9 L1151.4 1283.5 L1152.5 1281.4 L1153.6 1283.4 L1154.7 1281.1 L1155.8 1283.1 L1156.9 1282.6 L1158 1282.4 L1159.1 1283.6 L1160.2 1282.6 L1161.3 1282.2 L1162.4 1283.1 L1162.6 1282.4 L1163.2 1258.7 L1163.7 1284.2 L1166.4 1284.1 L1167.5 1283.4 L1168.6 1282.8 L1169.7 1283 L1170.8 1283 L1171.9 1283.7 L1173 1282.6 L1174.1 1282.8 L1175.2 1283.2 L1176.3 1282.8 L1177.4 1282.6 L1178.5 1283.8 L1179.6 1284 L1180.7 1283.1 L1181.8 1283 L1182.9 1282.3 L1184 1282.6 L1185.1 1282.2 L1186.2 1283.3 L1187.3 1283.3 L1188.4 1282 L1189.5 1284.2 L1190.6 1282.6 L1191.7 1284 L1192.8 1284 L1193.9 1284.3 L1195 1282.3 L1196.1 1282.9 L1197.2 1284.2 L1198.3 1281.8 L1198.5 1283.1 L1199.1 1257.5 L1199.6 1286.6 L1202.3 1282.7 L1203.4 1284.1 L1204.5 1283.9 L1205.6 1285 L1206.7 1284.6 L1207.8 1284 L1208.9 1285.2 L1210 1283.9 L1211.1 1283.9 L1212.2 1284.4 L1213.3 1283.6 L1214.4 1283.5 L1215.5 1284.1 L1216.6 1283.5 L1217.7 1285.1 L1218.8 1284.4 L1219.9 1284 L1221 1282.9 L1222.1 1283.6 L1223.2 1283.6 L1224.3 1284.1 L1225.4 1284.1 L1226.5 1284.9 L1227.6 1285.1 L1228.7 1283.9 L1229.8 1283.7 L1230.9 1284.2 L1232 1285.2 L1233.1 1283.5 L1234.2 1284 L1234.4 1283.9 L1234.6 1283.9 L1235.2 1290.3 L1235.8 1285.4 L1238.2 1286.2 L1239.3 1284.5 L1240.4 1284.9 L1241.5 1286.6 L1242.6 1286.2 L1243.7 1285.4 L1244.8 1284.4 L1245.9 1286.4 L1247 1285.9 L1248.1 1286.2 L1249.2 1286.7 L1250.3 1286.4 L1251.4 1285.2 L1252.5 1284.5 L1253.6 1284.9 L1254.7 1285.4 L1255.8 1285.4 L1256.9 1284.6 L1258 1284.6 L1259.1 1285.7 L1260.2 1285.7 L1261.3 1285 L1262.4 1286.7 L1263.5 1285.8 L1264.6 1284.2 L1265.7 1285.2 L1266.8 1286.1 L1267.9 1284.9 L1269 1285.9 L1270.1 1284.1 L1270.3 1285.4 L1270.5 1285.4 L1271.1 1292.8 L1271.7 1286.2 L1274.1 1285.7 L1275.2 1287.1 L1276.3 1286.4 L1277.4 1286.6 L1278.5 1285.4 L1279.6 1286.2 L1280.7 1286.3 L1281.8 1285.6 L1282.9 1286.6 L1284 1286.3 L1285.1 1287.5 L1286.2 1286.4 L1287.3 1286 L1288.4 1285.2 L1289.5 1285.3 L1290.6 1286.9 L1291.7 1285.2 L1292.8 1285.2 L1293.9 1285.3 L1295 1286.3 L1296.1 1287 L1297.2 1286.5 L1298.3 1287 L1299.4 1285.1 L1300.5 1284.9 L1301.6 1286.9 L1302.7 1285.7 L1303.8 1286.8 L1304.9 1285.8 L1306 1285.3 L1306.2 1286.2 L1306.4 1286.2 L1307 1306 L1307.5 1287.2 L1310 1286.6 L1311 1286.2 L1312.1 1288.3 L1313.2 1287.4 L1314.3 1286.8 L1315.4 1287.1 L1316.5 1286.9 L1317.6 1286.1 L1318.7 1288.2 L1319.8 1287.4 L1320.9 1288.4 L1322 1287.1 L1323.1 1287.5 L1324.2 1286.6 L1325.3 1286.1 L1326.4 1288.4 L1327.5 1288.2 L1328.6 1286.8 L1329.7 1288.3 L1330.8 1288.1 L1331.9 1286.7 L1333 1287.5 L1334.1 1288.5 L1335.2 1287.2 L1336.3 1288.4 L1337.4 1286.6 L1338.5 1287 L1339.6 1287.8 L1340.7 1286.5 L1341.8 1286.8 L1342 1287.3 L1342.2 1287.3 L1342.8 1239.2 L1343.4 1287.3 L1345.8 1288.2 L1346.9 1287.2 L1348 1288 L1349.1 1286.6 L1350.2 1286.4 L1351.3 1286.9 L1352.4 1286.5 L1353.5 1288.5 L1354.6 1286.7 L1355.7 1287.4 L1356.8 1286.3 L1357.9 1287.4 L1359 1287 L1360.1 1287 L1361.2 1286.2 L1362.3 1286.3 L1363.4 1288.1 L1364.5 1286.9 L1365.6 1286.6 L1366.7 1286.5 L1367.8 1286.7 L1368.9 1286.6 L1370 1286.1 L1371.1 1287.7 L1372.2 1286.9 L1373.3 1286.4 L1374.4 1287.9 L1375.5 1286.3 L1376.6 1286.7 L1377.7 1288.2 L1377.9 1287.3 L1378.1 1287.3 L1378.7 1258.7 L1379.3 1287.3 L1381.7 1286.4 L1382.8 1287.2 L1383.9 1288.2 L1385 1288.1 L1386.1 1286.5 L1387.2 1287 L1388.3 1287.9 L1389.4 1287 L1390.5 1288.5 L1391.6 1286.6 L1392.7 1288.5 L1393.8 1287.4 L1394.9 1286.6 L1396 1287.2 L1397.1 1286.4 L1398.2 1287.9 L1399.3 1286.7 L1400.4 1288.4 L1401.5 1287.6 L1402.6 1287 L1403.7 1286.7 L1404.8 1287.6 L1405.9 1286.6 L1407 1288.3 L1408.1 1286.4 L1409.2 1287.4 L1410.3 1287.5 L1411.4 1286.8 L1412.5 1288.1 L1413.6 1287.1 L1413.8 1287.4 L1414 1287.4 L1414.6 1295.1 L1415.2 1287.4 L1417.6 1287.8 L1418.7 1287.6 L1419.8 1286.9 L1420.9 1287.1 L1422 1286.3 L1423.1 1286.6 L1424.2 1288.3 L1425.3 1286.9 L1426.4 1287.8 L1427.5 1286.4 L1428.6 1287.6 L1429.7 1287 L1430.8 1287.4 L1431.9 1286.9 L1433 1286.3 L1434.1 1286.9 L1435.2 1286.7 L1436.3 1286.4 L1437.4 1288 L1438.5 1286.9 L1439.6 1287.2 L1440.7 1288.5 L1441.8 1288.1 L1442.9 1288.4 L1444 1288.4 L1445.1 1286.5 L1446.2 1286.9 L1447.3 1286.2 L1448.4 1287.9 L1449.5 1287.9 L1449.7 1287.4 L1449.9 1287.4 L1450.5 1300 L1451.1 1287.4 L1453.5 1287.1 L1454.6 1287.2 L1455.7 1287.9 L1456.8 1288 L1457.9 1286.8 L1459 1288.4 L1460.1 1287.1 L1461.2 1287.8 L1462.3 1286.6 L1463.4 1286.5 L1464.5 1288.5 L1465.6 1288.1 L1466.7 1288 L1467.8 1286.3 L1468.9 1286.3 L1470 1286.6 L1471.1 1286.7 L1472.2 1287 L1473.3 1287.2 L1474.4 1286.3 L1475.5 1287 L1476.6 1287.8 L1477.7 1286.7 L1478.8 1288.4 L1479.9 1287.7 L1481 1288.1 L1482.1 1286.9 L1483.2 1287.3 L1484.3 1288 L1485.4 1287.1 L1485.6 1287.5 L1485.8 1287.5 L1486.4 1234.4 L1487 1287.5 L1489.4 1286.2 L1490.5 1288.4 L1491.6 1288.2 L1492.7 1287 L1493.8 1286.3 L1494.9 1288.4 L1496 1287.8 L1497.1 1286.3 L1498.2 1286.9 L1499.3 1286.5 L1500.4 1288.3 L1501.5 1286.8 L1502.6 1288.6 L1503.7 1288.2 L1504.8 1286.5 L1505.9 1288 L1507 1287.3 L1508.1 1288.2 L1509.2 1288.4 L1510.3 1287 L1511.4 1286.5 L1512.5 1288.7 L1513.6 1287.3 L1514.7 1288.7 L1515.8 1288 L1516.9 1288.2 L1518 1288.4 L1519.1 1287.9 L1520.2 1287.4 L1521.3 1286.4 L1521.5 1287.6 L1521.7 1287.6 L1522.3 1302.4 L1522.9 1287.6 L1525.3 1288.1 L1526.4 1287.4 L1527.5 1287.6 L1528.6 1288.7 L1529.7 1286.6 L1530.8 1288.3 L1531.9 1286.4 L1533 1288.1 L1534.1 1288.4 L1535.2 1287 L1536.3 1287.7 L1537.4 1288.8 L1538.5 1287.9 L1539.6 1287.7 L1540.7 1286.9 L1541.8 1286.4 L1542.9 1287.2 L1544 1287.4 L1545.1 1286.8 L1546.2 1287.1 L1547.3 1286.7 L1548.4 1288.1 L1549.5 1288 L1550.6 1286.9 L1551.7 1286.9 L1552.8 1287.6 L1553.9 1287.5 L1555 1288.7 L1556.1 1287.2 L1557.2 1287.1 L1557.4 1287.6 L1557.6 1287.6 L1558.2 1295.1 L1558.8 1287.6 L1561.2 1288.6 L1562.3 1286.7 L1563.4 1287.8 L1564.5 1287.2 L1565.6 1288.4 L1566.7 1287.8 L1567.8 1288.3 L1568.9 1286.8 L1570 1288.1 L1571.1 1287.9 L1572.2 1287.5 L1573.3 1288.3 L1574.4 1288.5 L1575.5 1286.6 L1576.6 1287.1 L1577.7 1287.3 L1578.8 1286.9 L1579.9 1286.5 L1581 1287.1 L1582.1 1286.9 L1583.2 1288.2 L1584.3 1287.5 L1585.4 1286.7 L1586.5 1287.2 L1587.6 1287.6 L1588.7 1287.3 L1589.8 1286.8 L1590.9 1286.6 L1592 1286.4 L1593.1 1288.9 L1593.3 1287.7 L1593.5 1287.7 L1594.1 1293.8 L1594.7 1287.7 L1597.1 1288.3 L1598.2 1286.6 L1599.3 1288.2 L1600.4 1288.9 L1601.5 1287.8 L1602.6 1286.7 L1603.7 1287.7 L1604.8 1287.5 L1605.9 1286.9 L1607 1287.8 L1608.1 1286.4 L1609.2 1288.8 L1610.3 1288.1 L1611.4 1288 L1612.5 1288.8 L1613.6 1288.1 L1614.7 1287.1 L1615.8 1287 L1616.9 1286.8 L1618 1286.5 L1619.1 1288.4 L1620.2 1288.6 L1621.3 1287.2 L1622.4 1286.9 L1623.5 1288.1 L1624.6 1288.6 L1625.7 1288.8 L1626.8 1286.9 L1627.9 1288.5 L1629 1288.6 L1629.2 1287.7 L1629.4 1287.7 L1630 1300 L1630.6 1287.7 L1633 1288.4 L1634.1 1287.3 L1635.2 1286.9 L1636.3 1288.6 L1637.4 1287.3 L1638.5 1287.4 L1639.6 1287.9 L1640.7 1287.4 L1641.8 1288.6 L1642.9 1287.1 L1644 1286.6 L1645.1 1287.9 L1646.2 1288.1 L1647.3 1288.6 L1648.4 1288.3 L1649.5 1288.8 L1650.6 1288.9 L1651.7 1287.7 L1652.8 1287.8 L1653.9 1286.9 L1655 1287.2 L1656.1 1288 L1657.2 1286.7 L1658.3 1288.3 L1659.4 1286.9 L1660.5 1287.6 L1661.6 1289 L1662.7 1286.7 L1663.8 1286.6 L1664.9 1287.6 L1665.1 1287.8 L1665.3 1287.8 L1665.9 1298.8 L1666.5 1287.8 L1668.9 1287 L1670 1288.4 L1671 1286.5 L1672.1 1288.7 L1673.2 1288.7 L1674.3 1288.5 L1675.4 1287.6 L1676.5 1287.2 L1677.6 1288.2 L1678.7 1287.8 L1679.8 1287.6 L1680.9 1287.4 L1682 1287.7 L1683.1 1288.2 L1684.2 1288.7 L1685.3 1288.9 L1686.4 1286.9 L1687.5 1287.3 L1688.6 1287.7 L1689.7 1288 L1690.8 1287.4 L1691.9 1287 L1693 1286.7 L1694.1 1287.4 L1695.2 1287.7 L1696.3 1289.1 L1697.4 1288.9 L1698.5 1288.8 L1699.6 1289.1 L1700.7 1289 L1700.9 1287.8 L1701.1 1287.8 L1701.7 1264.7 L1702.3 1287.8 L1704.7 1288.2 L1705.8 1288.7 L1706.9 1286.7 L1708 1288.3 L1709.1 1288.1 L1710.2 1287.3 L1711.3 1288 L1712.4 1289 L1713.5 1287.8 L1714.6 1288.2 L1715.7 1287.3 L1716.8 1287.5 L1717.9 1288.9 L1719 1286.6 L1720.1 1287.1 L1721.2 1288.3 L1722.3 1287.7 L1723.4 1286.8 L1724.5 1288.3 L1725.6 1287.5 L1726.7 1288.1 L1727.8 1287.7 L1728.9 1288 L1730 1288.1 L1731.1 1287.6 L1732.2 1286.9 L1733.3 1287.1 L1734.4 1288.9 L1735.5 1288 L1736.6 1286.9 L1736.8 1287.9 L1737.4 1278.2 L1737.9 1293.8 L1740.6 1288.8 L1741.7 1287.3 L1742.8 1286.9 L1743.9 1288 L1745 1287.3 L1746.1 1287.9 L1747.2 1288.1 L1748.3 1287.2 L1749.4 1288.1 L1750.5 1286.9 L1751.6 1288 L1752.7 1288.2 L1753.8 1286.8 L1754.9 1287.7 L1756 1286.8 L1757.1 1287.8 L1758.2 1288.9 L1759.3 1288.1 L1760.4 1288.5 L1761.5 1288.6 L1762.6 1286.9 L1763.7 1289.2 L1764.8 1288.5 L1765.9 1286.9 L1767 1288.8 L1768.1 1287.7 L1769.2 1287.1 L1770.3 1289.1 L1771.4 1288.1 L1772.5 1288.7 L1772.7 1288 L1773.3 1267.2 L1773.8 1292.8 L1776.5 1287 L1777.6 1288.7 L1778.7 1286.8 L1779.8 1287.3 L1780.9 1287.6 L1782 1286.7 L1783.1 1288.2 L1784.2 1287.2 L1785.3 1287.5 L1786.4 1288.5 L1787.5 1287.8 L1788.6 1289 L1789.7 1288.3 L1790.8 1289 L1791.9 1288.2 L1793 1289.1 L1794.1 1289 L1795.2 1287.1 L1796.3 1288.6 L1797.4 1287.6 L1798.5 1288.7 L1799.6 1288.5 L1800.7 1288.9 L1801.8 1287 L1802.9 1287.7 L1804 1288.6 L1805.1 1289.2 L1806.2 1288.6 L1807.3 1286.9 L1808.4 1288.3 L1808.6 1288 L1809.2 1278.1 L1809.7 1296.3 L1812.4 1287 L1813.5 1288.2 L1814.6 1288.9 L1815.7 1287.1 L1816.8 1289.2 L1817.9 1288.6 L1819 1287.5 L1820.1 1287.3 L1821.2 1288 L1822.3 1289 L1823.4 1288.3 L1824.5 1287.1 L1825.6 1286.9 L1826.7 1287.1 L1827.8 1288.9 L1828.9 1287.3 L1830 1288.3 L1831.1 1287.6 L1832.2 1288.7 L1833.3 1287.9 L1834.4 1287.3 L1835.5 1289.2 L1836.6 1288.3 L1837.7 1288.7 L1838.8 1289 L1839.9 1289.4 L1841 1287 L1842.1 1287.8 L1843.2 1287.3 L1844.3 1288.2 L1844.5 1288.2 L1844.7 1288.2 L1845.3 1282.9 L1845.9 1288.3 L1848.3 1289.2 L1849.4 1289 L1850.5 1287.1 L1851.6 1287.5 L1852.7 1289.1 L1853.8 1288.8 L1854.9 1288 L1856 1288.2 L1857.1 1287.4 L1858.2 1289.2 L1859.3 1288 L1860.4 1289.3 L1861.5 1288.6 L1862.6 1287.2 L1863.7 1287.9 L1864.8 1287.6 L1865.9 1289.4 L1867 1288.6 L1868.1 1287.2 L1869.2 1287.5 L1870.3 1288 L1871.4 1288.3 L1872.5 1288.6 L1873.6 1288.1 L1874.7 1288 L1875.8 1287.1 L1876.9 1288.6 L1878 1288 L1879.1 1287.2 L1880.2 1288.3 L1880.4 1288.4 L1880.6 1288.4 L1881.2 1303.6 L1881.8 1288.5 L1884.2 1289.7 L1885.3 1287.3 L1886.4 1287.5 L1887.5 1288.9 L1888.6 1287.9 L1889.7 1287.9 L1890.8 1288.5 L1891.9 1287.9 L1893 1288.7 L1894.1 1288.6 L1895.2 1289.7 L1896.3 1289.8 L1897.4 1287.3 L1898.5 1288.7 L1899.6 1289.2 L1900.7 1289.5 L1901.8 1289.3 L1902.9 1288.9 L1904 1288.9 L1905.1 1288.2 L1906.2 1288 L1907.3 1289.3 L1908.4 1289.6 L1909.5 1289.7 L1910.6 1289.1 L1911.7 1288.1 L1912.8 1289.3 L1913.9 1289.2 L1915 1288.6 L1916.1 1289 L1916.3 1288.6 L1916.5 1288.6 L1917.1 1300 L1917.7 1288.6 L1920.1 1288.3 L1921.2 1288.8 L1922.3 1288.4 L1923.4 1287.5 L1924.5 1288.2 L1925.6 1288.2 L1926.7 1290 L1927.8 1288.6 L1928.9 1288.4 L1930 1288 L1931.1 1288 L1932.2 1288.3 L1933.3 1287.8 L1934.4 1287.4 L1935.5 1289.7 L1936.6 1288.6 L1937.7 1288.6 L1938.8 1288.9 L1939.9 1288.2 L1941 1287.9 L1942.1 1287.6 L1943.2 1288.3 L1944.3 1288.3 L1945.4 1289.4 L1946.5 1288.9 L1947.6 1289.9 L1948.7 1288.4 L1949.8 1289.9 L1950.9 1289 L1952 1287.7 L1952.2 1288.8 L1952.4 1288.8 L1953 1295.1 L1953.6 1288.8 L1956 1288 L1957.1 1289.1 L1958.2 1290.1 L1959.3 1288.5 L1960.4 1289.6 L1961.5 1288.7 L1962.6 1289.8 L1963.7 1287.8 L1964.8 1288.9 L1965.9 1289.9 L1967 1288.3 L1968.1 1288.3 L1969.2 1287.7 L1970.3 1288 L1971.4 1288.3 L1972.5 1289.5 L1973.6 1288.2 L1974.7 1288.7 L1975.8 1288.2 L1976.9 1289.2 L1978 1289.9 L1979.1 1289.4 L1980.2 1288.2 L1981.3 1289.6 L1982.4 1290.2 L1983.5 1289.3 L1984.6 1287.9 L1985.7 1289.8 L1986.8 1290 L1987.9 1288.6 L1988.1 1289 L1988.3 1289 L1988.9 1269.6 L1989.5 1289 L1991.9 1288.1 L1993 1288.2 L1994.1 1289.1 L1995.2 1290 L1996.3 1289.4 L1997.4 1290.2 L1998.5 1288.3 L1999.6 1288.6 L2000.7 1289.7 L2001.8 1289.5 L2002.9 1288.9 L2004 1289.6 L2005.1 1288.7 L2006.2 1288 L2007.3 1288.9 L2008.4 1287.9 L2009.5 1289.5 L2010.6 1288.7 L2011.7 1289.1 L2012.8 1289.4 L2013.9 1288.5 L2015 1289.1 L2016.1 1287.9 L2017.2 1290.3 L2018.3 1289.3 L2019.4 1290.5 L2020.5 1288 L2021.6 1289.5 L2022.7 1289.8 L2023.8 1288.8 L2024 1289.2 L2024.2 1289.2 L2024.8 1272 L2025.3 1289.2 L2027.8 1288.2 L2028.8 1288.3 L2029.9 1288.3 L2031 1289.9 L2032.1 1288.2 L2033.2 1290.1 L2034.3 1289.1 L2035.4 1289.4 L2036.5 1289.5 L2037.6 1289.4 L2038.7 1289.7 L2039.8 1289.6 L2040.9 1288.9 L2042 1289.9 L2043.1 1288.7 L2044.2 1289.9 L2045.3 1290 L2046.4 1290 L2047.5 1288.8 L2048.6 1290.1 L2049.7 1290.6 L2050.8 1289.2 L2051.9 1288.8 L2053 1289.4 L2054.1 1290.5 L2055.2 1288.4 L2056.3 1288.1 L2057.4 1289.3 L2058.5 1289.8 L2059.6 1290.1 L2059.8 1289.4 L2060.4 1266 L2060.9 1301.2 L2063.6 1289.1 L2064.7 1290.7 L2065.8 1288.7 L2066.9 1290.1 L2068 1288.4 L2069.1 1288.2 L2070.2 1288.5 L2071.3 1288.3 L2072.4 1289.5 L2073.5 1289.6 L2074.6 1288.7 L2075.7 1290.6 L2076.8 1289.1 L2077.9 1288.6 L2079 1288.7 L2080.1 1290.1 L2081.2 1290.6 L2082.3 1288.6 L2083.4 1288.3 L2084.5 1290.3 L2085.6 1288.9 L2086.7 1290.8 L2087.8 1289.6 L2088.9 1289.9 L2090 1289.2 L2091.1 1290.4 L2092.2 1289.5 L2093.3 1289.1 L2094.4 1290.6 L2095.5 1288.6 L2095.7 1289.6 L2095.9 1289.6 L2096.5 1296.3 L2097.1 1289.6 L2099.5 1290.2 L2100.6 1288.5 L2101.7 1290 L2102.8 1289.4 L2103.9 1290.6 L2105 1288.5 L2106.1 1289.8 L2107.2 1289.4 L2108.3 1290.8 L2109.4 1290.8 L2110.5 1290 L2111.6 1289 L2112.7 1289 L2113.8 1289.1 L2114.9 1289.5 L2116 1289 L2117.1 1288.9 L2118.2 1290.4 L2119.3 1290.1 L2120.4 1289.2 L2121.5 1291 L2122.6 1289 L2123.7 1289.9 L2124.8 1288.9 L2125.9 1290.7 L2127 1290.7 L2128.1 1289.2 L2129.2 1290.4 L2130.3 1290.6 L2131.4 1289.2 L2131.6 1289.8 L2131.8 1289.8 L2132.4 1300 L2133 1289.8 L2135.4 1289.4 L2136.5 1289.8 L2137.6 1290.8 L2138.7 1289 L2139.8 1290.3 L2140.9 1290.1 L2142 1289.7 L2143.1 1290.1 L2144.2 1290.9 L2145.3 1289.1 L2146.4 1290.9 L2147.5 1289.5 L2148.6 1290.6 L2149.7 1290.8 L2150.8 1289.1 L2151.9 1290.8 L2153 1291.2 L2154.1 1289.4 L2155.2 1288.7 L2156.3 1288.9 L2157.4 1291.2 L2158.5 1288.7 L2159.6 1291 L2160.7 1289 L2161.8 1290.6 L2162.9 1288.9 L2164 1289.1 L2165.1 1290.4 L2166.2 1288.9 L2167.3 1289.6 L2168.4 1291.1 L2169.5 1290.6 L2170.6 1291 L2171.7 1291.2 L2172.8 1288.8 L2173.7 1290"/>
</g>
<g stroke="#000" fill="none" stroke-width="6.6">
<rect x="213.1" y="36.9" width="2244.5" height="1379.6"/>
</g>
<g stroke="#000" stroke-width="6.6">
<line x1="213.1" y1="1317.1" x2="248.1" y2="1317.1"/>
<line x1="213.1" y1="1120.2" x2="231.1" y2="1120.2"/>
<line x1="213.1" y1="923.2" x2="248.1" y2="923.2"/>
<line x1="213.1" y1="726.3" x2="231.1" y2="726.3"/>
<line x1="213.1" y1="529.4" x2="248.1" y2="529.4"/>
<line x1="213.1" y1="332.4" x2="231.1" y2="332.4"/>
<line x1="213.1" y1="135.5" x2="248.1" y2="135.5"/>
<line x1="372.7" y1="1416.5" x2="372.7" y2="1381.5"/>
<line x1="693.5" y1="1416.5" x2="693.5" y2="1398.5"/>
<line x1="1014.2" y1="1416.5" x2="1014.2" y2="1381.5"/>
<line x1="1335" y1="1416.5" x2="1335" y2="1398.5"/>
<line x1="1655.7" y1="1416.5" x2="1655.7" y2="1381.5"/>
<line x1="1976.5" y1="1416.5" x2="1976.5" y2="1398.5"/>
<line x1="2297.3" y1="1416.5" x2="2297.3" y2="1381.5"/>
</g>
<g font-family="'Liberation Serif', serif" font-weight="bold" font-size="76" fill="#000" stroke="#fff" stroke-width="1.1">
<text transform="translate(175 1339.9) scale(1 1.048)" text-anchor="end">0</text>
<text transform="translate(175 946) scale(1 1.048)" text-anchor="end">2</text>
<text transform="translate(175 552.2) scale(1 1.048)" text-anchor="end">4</text>
<text transform="translate(175 158.3) scale(1 1.048)" text-anchor="end">6</text>
<text transform="translate(374 1515) scale(1 1.048)" text-anchor="middle">0</text>
<text transform="translate(1015.5 1515) scale(1 1.048)" text-anchor="middle">20000</text>
<text transform="translate(1657 1515) scale(1 1.048)" text-anchor="middle">40000</text>
<text transform="translate(2298.6 1515) scale(1 1.048)" text-anchor="middle">60000</text>
</g>
<g font-family="'Liberation Serif', serif" font-size="96.8" fill="#000" letter-spacing="-1.0" stroke="#fff" stroke-width="0.4">
<text x="1334.5" y="1624.6" text-anchor="middle">Number of Iterations</text>
<text transform="translate(96.8 727) rotate(-90)" text-anchor="middle" font-size="95.6" letter-spacing="-0.3">Sum Loss</text>
</g>
<rect x="1465.9" y="36.9" width="991.7" height="179.5" fill="#fff" stroke="#000" stroke-width="6.1"/>
<g stroke-width="8.5" stroke-linecap="butt">
<line x1="1469.3" y1="84.6" x2="1634.7" y2="84.6" stroke="#ff0000"/>
<line x1="1469.3" y1="169.4" x2="1634.7" y2="169.4" stroke="#0433ff"/>
</g>
<g font-family="'Liberation Serif', serif" font-size="68.1" fill="#000" stroke="#fff" stroke-width="0.4">
<text x="1646.2" y="106.9">sum loss by Mask R-CNN</text>
<text x="1646.2" y="192.9">sum loss by SCMask R-CNN</text>
</g>
<g stroke="#a6a432" stroke-width="4.5" fill="none">
<line x1="1909" y1="1248.6" x2="996" y2="1094.8" stroke-dasharray="22.3 21.3"/>
<line x1="2157.3" y1="1249" x2="2182.2" y2="1119.5" stroke-dasharray="22.4 20.8"/>
</g>
<g fill="#a6a432">
<path d="M955.3 1085 L1007 1083 L996 1093 L1002 1109 Z"/>
<path d="M2192.3 1084.5 L2194 1133.5 L2183.5 1119.5 L2169.5 1128.5 Z"/>
</g>
<rect x="957.8" y="301.3" width="1233.7" height="782.5" fill="none" stroke="#000" stroke-width="6"/>
<g stroke="#000" stroke-width="5.8">
<line x1="1121.3" y1="1083.8" x2="1121.3" y2="1073.8"/>
<line x1="1284.6" y1="1083.8" x2="1284.6" y2="1064.8"/>
<line x1="1447.8" y1="1083.8" x2="1447.8" y2="1073.8"/>
<line x1="1611" y1="1083.8" x2="1611" y2="1064.8"/>
<line x1="1774.2" y1="1083.8" x2="1774.2" y2="1073.8"/>
<line x1="1937.5" y1="1083.8" x2="1937.5" y2="1064.8"/>
<line x1="2100.7" y1="1083.8" x2="2100.7" y2="1073.8"/>
<line x1="957.8" y1="614.4" x2="976.8" y2="614.4"/>
<line x1="957.8" y1="927.4" x2="967.8" y2="927.4"/>
</g>
<g fill="none" stroke-linejoin="round" stroke-linecap="butt" stroke-width="7">
<path stroke="#ff0000" d="M958.4 744.9 L960.2 743.9 L962.1 745.8 L964 745.3 L965.9 743.1 L967.7 744.6 L969.6 743.6 L971.5 744.2 L973.3 743 L975.2 742.7 L977.1 745.9 L978.9 743.5 L980.8 744.1 L982.4 742.9 L983.5 777.1 L984.1 431.8 L986.1 612.2 L989 722.4 L990.2 614.3 L992.2 644.9 L993.9 681.6 L996.3 655.1 L999.6 652.2 L1002 653.9 L1004.5 685.7 L1006.5 704.1 L1009 710.5 L1011.4 714.3 L1013.5 714.4 L1015.5 717 L1017.6 718.4 L1019.6 719.2 L1021.6 722.2 L1023.7 724.5 L1026 726.1 L1028.3 730.6 L1030.6 732.7 L1033.3 732.9 L1035.9 735.5 L1038 735.4 L1040 733.6 L1042 732.7 L1045.3 726.5 L1048.6 717.6 L1051 718.7 L1053.5 722.4 L1055.4 722.9 L1057.3 724.3 L1059.2 725.3 L1061 726.5 L1062.9 724.4 L1064.7 723.7 L1066.5 724.5 L1068.7 725.7 L1070.9 725 L1073.1 723.3 L1075.2 725.8 L1077.4 726 L1079.6 728.6 L1081.4 728.7 L1083.3 730.2 L1085.1 730.8 L1086.9 733.5 L1088.8 731.5 L1090.6 732.7 L1092.4 731.9 L1094.3 731.8 L1096.5 731.5 L1098.8 730.3 L1101 728.6 L1103.3 729.8 L1105.1 729.9 L1106.9 729.3 L1108.8 728.4 L1110.6 727.8 L1112.5 728.3 L1114.4 729.2 L1116.3 729 L1118.4 731.2 L1120.4 731.5 L1122.4 731.6 L1124.5 731.4 L1126.4 731.6 L1128.3 731.9 L1130.2 732.8 L1132.1 735.2 L1134 733.8 L1135.9 734.7 L1138 734.6 L1140 734.9 L1142 734.3 L1144.1 737.5 L1146.1 734.4 L1148.2 736.3 L1150.2 737.1 L1152.2 738.6 L1154.3 736.7 L1156.3 738.3 L1158.4 737.9 L1160.4 738.8 L1162.9 738.3 L1165.3 739.6 L1167.3 891 L1169.4 767.3 L1172.7 769.4 L1175.1 802 L1177.6 783.7 L1179.6 774.5 L1181.6 767.3 L1184.9 776.3 L1188.2 785.7 L1191.4 780.4 L1194.7 761.2 L1198 750.2 L1200.6 750.9 L1203.3 754.3 L1205.3 755.2 L1207.3 754.7 L1209.4 753.5 L1211.8 749.1 L1214.3 742 L1216.3 737.4 L1218.4 735.9 L1220.4 738.4 L1222.4 739.6 L1224.9 738.2 L1227.3 738 L1229.3 740.4 L1231.2 741.9 L1233.1 743.7 L1235 743.9 L1236.9 746.9 L1238.8 746.1 L1240.6 743.6 L1242.4 745.3 L1244.3 744.9 L1246.1 742.9 L1248.2 742.1 L1250.2 741.5 L1252.2 742.1 L1254.3 739.6 L1256.3 738.7 L1258.4 740 L1260.4 740.4 L1262.4 739.2 L1264.5 740.3 L1266.5 739.6 L1268.8 739.5 L1271 740.3 L1273.3 740.9 L1275.5 740.8 L1277.6 742.5 L1279.6 742.5 L1281.6 744.6 L1283.7 745.3 L1285.5 746.3 L1287.3 746 L1289.2 748.1 L1291 748.6 L1293.1 747.4 L1295.1 749.1 L1297.1 747.3 L1299.2 746.9 L1301 746.3 L1302.9 744.2 L1304.7 742.6 L1306.5 741.2 L1308.8 738.6 L1311.2 736.7 L1313.5 736.3 L1315.5 738.3 L1317.6 737.4 L1319.6 737.9 L1321.6 738.4 L1323.7 738.8 L1325.5 740.1 L1327.3 738.3 L1329.1 738.3 L1330.9 740.8 L1332.7 739.8 L1334.6 740.6 L1336.4 741.5 L1338.2 741.9 L1340 740.8 L1320 738.8 L1322 740.3 L1324.1 737.8 L1326.1 739.2 L1328.2 741 L1330.2 741.2 L1332.2 740.4 L1334.2 739.2 L1336.2 739.5 L1338.2 739.9 L1340.2 739.5 L1342.2 740.5 L1344.1 742.1 L1346.1 741.2 L1348.2 742.5 L1350.2 743.7 L1351.8 846.1 L1353.5 767.3 L1355.9 652.2 L1358.4 685.7 L1360.8 722.4 L1363.3 710.2 L1365.7 704.1 L1368.2 726.5 L1371.4 706.9 L1373.5 712.5 L1375.5 718.4 L1378 722.7 L1380.4 729.8 L1382.9 732.3 L1385.3 735.5 L1387.3 735.8 L1389.4 732.7 L1392.7 724.1 L1395.9 730.6 L1398.4 732.5 L1400.8 733.1 L1403 733.4 L1405.2 734.1 L1407.3 734.7 L1409.5 737.1 L1411.7 738.3 L1413.9 738.8 L1416.3 738 L1418.8 739.6 L1422 726.5 L1425.3 720.8 L1427.8 719.8 L1430.2 717.6 L1432.4 717.1 L1434.6 717.6 L1436.7 717.6 L1438.9 716.9 L1441.1 717.7 L1443.3 718.4 L1445.4 718.9 L1447.6 720.1 L1449.8 721.6 L1451.7 721.2 L1453.6 723.1 L1455.5 725.3 L1457.7 727.9 L1459.9 728.4 L1462 732.2 L1464.2 732 L1466.4 734.6 L1468.6 734.7 L1470.7 734.6 L1472.9 735.5 L1475.1 736.7 L1477.3 737.2 L1479.5 740.6 L1481.6 740.8 L1483.8 738.7 L1486 739.9 L1488.2 738.8 L1490 740 L1491.8 737.8 L1493.7 738.5 L1495.5 738.8 L1497.7 741.1 L1499.9 741.9 L1502 742.9 L1503.9 743.5 L1505.9 743.5 L1507.8 746.1 L1509.8 746.1 L1511.8 746 L1513.9 747.3 L1515.9 746.1 L1518 746.9 L1519.8 746.6 L1521.6 747.4 L1523.5 748 L1525.3 746.4 L1527.1 746.5 L1529 746.9 L1532.2 746.1 L1534.3 853.9 L1536.3 767.3 L1539.6 649 L1542 661.2 L1544.5 685.7 L1546.9 710.2 L1549 713.5 L1551 716.3 L1552.9 719.8 L1554.8 719.4 L1556.7 722.4 L1559.2 727.1 L1561.6 728.6 L1564.9 733.5 L1566.9 733.2 L1569 731.4 L1571.4 733 L1573.9 735.5 L1576.3 734.6 L1578.8 732.7 L1580.7 730.7 L1582.6 728.5 L1584.5 728.6 L1586.5 730.1 L1588.6 729.8 L1591 732.9 L1593.5 736.7 L1595.5 738.9 L1597.6 740.8 L1599.6 742.9 L1601.6 745.6 L1603.7 746.5 L1605.7 746.9 L1607.8 746.1 L1609.8 748.9 L1611.8 749.4 L1613.9 748.9 L1615.9 748.4 L1618 749.3 L1620 747.8 L1622 747.3 L1624.1 747.4 L1626.1 748.7 L1628.2 747.1 L1630.2 747.1 L1632.2 747.1 L1634.3 746.9 L1636.3 747.8 L1638.4 747 L1640.4 746.9 L1642.4 745.5 L1644.5 744 L1646.5 745.3 L1648.8 745.3 L1651 744.3 L1653.3 744.4 L1655.5 742.9 L1657.4 744.3 L1659.3 742.5 L1661.1 743.4 L1663 743.4 L1664.9 745.3 L1666.9 746.9 L1669 744.9 L1671 745.4 L1673.1 748.1 L1675.1 747.8 L1677.1 748 L1679.2 746.4 L1681.2 748.6 L1683.3 748.7 L1685.3 748 L1687.3 748.2 L1689.4 746.5 L1691.4 748.5 L1693.5 747.5 L1695.5 747.9 L1697.6 749.2 L1699.6 747.3 L1701.6 748.4 L1703.7 748.5 L1705.7 745.9 L1707.8 746.5 L1709.8 747.1 L1711.8 746.9 L1700 746.9 L1702 745.4 L1704.1 748.9 L1706.1 746.6 L1708.2 746.7 L1710.2 747 L1712.2 747.8 L1713.9 746.9 L1714.7 536.7 L1716.3 685.7 L1719.6 759.2 L1722.4 779.6 L1725.3 767.3 L1728.6 759.2 L1730.6 750.2 L1732.7 742.9 L1734.7 737.5 L1736.7 729.8 L1738.8 729.6 L1740.8 729 L1742.9 728.6 L1744.9 731.4 L1746.9 734.7 L1749 735.2 L1751 738.8 L1753.1 738.6 L1755.1 741 L1757.1 741.3 L1759.2 740.8 L1761.2 747.1 L1763.3 751 L1765.3 754.3 L1767.3 759.2 L1769.4 758.7 L1771.4 758.7 L1773.5 760.8 L1775.5 760.5 L1777.6 759.6 L1779.6 759.5 L1781.6 759.2 L1783.7 758.7 L1785.7 758.7 L1787.8 757.5 L1789.8 757.6 L1791.8 758 L1793.9 755.3 L1795.9 757.1 L1798 755.1 L1800 754.5 L1802 751.9 L1804.1 752 L1806.1 751.9 L1808.2 751 L1810.2 750.1 L1812.2 749.9 L1814.3 748.5 L1816.3 747.6 L1818.4 747.8 L1820.4 748.8 L1822.4 747 L1824.5 748.5 L1826.5 748.8 L1828.6 748.1 L1830.6 747.8 L1832.8 749 L1835 752 L1837.1 751.8 L1839 752.7 L1841 755.3 L1842.9 755.1 L1844.9 752.6 L1846.9 752.8 L1849 752.5 L1851 751 L1853.1 750.1 L1855.1 753.5 L1857.1 751.4 L1859.2 753.5 L1861.2 753.7 L1863.3 752.2 L1865.3 754.6 L1867.3 753.1 L1869.4 752.5 L1871.4 752.6 L1873.5 750.9 L1875.5 750.7 L1877.6 749.4 L1879.6 749.5 L1881.6 747.7 L1883.7 746.9 L1885.7 748.6 L1887.8 746.9 L1889.8 746.3 L1891.8 749.6 L1893.9 747.8 L1895.9 749.4 L1898.4 751.8 L1899.6 1003.3 L1901.6 808.2 L1906.1 746.9 L1909 743.7 L1912.2 755.1 L1914.7 760 L1918 742.9 L1920.8 728.2 L1923.7 740.8 L1926.5 747.8 L1928.6 743.1 L1930.6 741.2 L1932.7 739.3 L1934.7 741.1 L1936.7 739.6 L1938.8 741.7 L1940.8 740.4 L1942.9 741.2 L1945.5 745.8 L1948.2 749.4 L1950.6 752.4 L1953.1 757.1 L1955.1 758.6 L1957.1 758 L1959.2 756.3 L1961.2 757.6 L1963.3 753.2 L1965.3 752.5 L1967.3 749 L1969.4 744.8 L1971.4 745 L1973.5 741.2 L1975.5 739.7 L1977.6 738.7 L1979.6 738.8 L1981.6 739.3 L1983.7 738.7 L1985.7 739.6 L1987.8 740.4 L1989.8 739.6 L1991.8 742.8 L1993.9 742 L1995.9 742.5 L1998 745.2 L2000 743.9 L2002 746.1 L2004.1 748.8 L2006.1 751 L2008.2 750.7 L2010.2 752.7 L2012.2 752.2 L2014.3 754.5 L2016.3 756.5 L2018.4 757.1 L2020.4 755.2 L2022.4 755.4 L2024.5 754.3 L2026.5 752.1 L2028.6 752.5 L2030.6 751.8 L2032.7 753 L2034.7 752.4 L2036.7 753.1 L2038.8 754.3 L2040.8 753.1 L2042.9 755.1 L2044.9 757 L2046.9 755.4 L2049 759 L2051 758.4 L2053.1 760.8 L2055.1 761.3 L2057.1 760.6 L2059.2 761.2 L2061.2 759.6 L2063.3 758.8 L2065.3 758.4 L2067.3 757.9 L2069.4 755.6 L2071.4 754.3 L2073.5 755.5 L2075.5 752.5 L2077.6 753.6 L2079.6 753.5 L2078.8 753.4 L2080.6 752.8 L2081.8 710.6 L2082.7 744.9 L2083.4 729.6 L2084.3 760.2 L2085.2 735.7 L2086.1 790.8 L2088.9 830 L2089.8 775.5 L2090.7 741.8 L2091.6 763.2 L2092.5 735.7 L2093.8 744.9 L2095 723.4 L2097.7 729.6 L2100.8 738.8 L2102.6 741.8 L2104.5 742.4 L2107.5 744.9 L2110.6 743.6 L2113.7 754.1 L2116.1 760.8 L2119.2 754.1 L2122.2 746.7 L2124.5 744.6 L2126.8 741.8 L2129.9 748.5 L2132.9 755.6 L2135.2 755 L2137.5 754.1 L2140.6 758.6 L2143.7 762 L2146 760.9 L2148.2 762.6 L2150.5 760.9 L2152.8 761.7 L2155.1 758.6 L2157.4 757.1 L2159.7 756.3 L2162 752.8 L2164.3 754.3 L2166.6 753.4 L2168.9 752.1 L2171.2 752.5 L2173.5 751.7 L2175.8 747.9 L2178.1 744.8 L2180.4 744.9 L2182.7 745.5 L2185 745.5 L2187 748 L2189 747.3"/>
<path stroke="#0433ff" d="M958.4 781.6 L960.4 781.2 L962.4 783.4 L964.5 782.5 L966.5 780.6 L968.6 781.6 L970.6 782.2 L972.7 782.4 L974.7 781.7 L976.7 783.5 L978.8 781.7 L980.8 782.9 L983.3 783.7 L984.9 972.2 L986.5 808.2 L988.2 772.2 L989.8 800 L991.4 816.3 L993.5 798 L995.5 785.7 L997.6 795.9 L999.6 804.1 L1001.5 805.3 L1003.4 803.9 L1005.3 804.9 L1007.1 803.2 L1009 804.7 L1010.8 802.9 L1012.7 804.1 L1015.5 792.7 L1017.8 787.9 L1020 782.9 L1021.9 781.4 L1023.8 778.3 L1025.7 775.5 L1027.8 777.8 L1029.8 780.4 L1032.2 781.7 L1034.7 786.1 L1036.6 788.1 L1038.5 788.6 L1040.4 791.8 L1042.3 793.4 L1044.2 792.8 L1046.1 795.1 L1048.2 795 L1050.2 793.8 L1052.2 793.9 L1054.3 793 L1056.3 793.6 L1058.4 792.7 L1060.4 792.1 L1062.4 792.6 L1064.5 794.3 L1066.5 796.1 L1068.6 794.3 L1070.6 795.1 L1072.7 796.5 L1074.7 796.8 L1076.7 795.6 L1078.8 795.9 L1080.8 794.9 L1082.9 794.9 L1084.9 797.8 L1086.9 796.7 L1089.4 789.8 L1091.8 786.9 L1093.7 785.8 L1095.5 787.3 L1097.3 787.7 L1099.2 787.8 L1101.2 786.3 L1103.3 787.2 L1105.3 786 L1107.3 786.9 L1109.4 786.9 L1111.4 786.6 L1113.5 785.9 L1115.5 786.1 L1117.6 784.9 L1119.6 785.4 L1121.6 784.5 L1123.7 785.3 L1125.7 784.4 L1127.8 785.2 L1129.8 787.8 L1131.8 786.9 L1133.9 787.2 L1135.9 788.8 L1138 787.8 L1140 785.6 L1142 788.2 L1144.1 786.1 L1146.1 785.9 L1148.2 786.8 L1150.2 785.7 L1152.2 786.3 L1154.3 787 L1156.3 785.7 L1158.4 786.9 L1160.4 788.1 L1162.4 786.3 L1164.5 787.8 L1166.1 746.1 L1168.6 808.2 L1170.6 868.6 L1172.9 868.2 L1175.1 869.4 L1177.6 844.9 L1180.8 826.9 L1183.3 833.5 L1186.5 840 L1188.4 839.8 L1190.3 842.4 L1192.2 844.1 L1194.7 845.8 L1197.1 847.3 L1199.6 845.8 L1202 845.7 L1205.3 834.7 L1207.8 828.6 L1210.2 831.1 L1212.7 831 L1215.1 829.4 L1217.6 830.6 L1219.6 827.4 L1221.6 823.7 L1223.7 820.1 L1225.7 818.4 L1227.8 818.4 L1229.8 818.7 L1231.8 818.2 L1233.9 817.1 L1235.9 815.5 L1238 815.9 L1240 816.9 L1242 816.3 L1244.1 816.3 L1246.1 811.5 L1248.2 811.4 L1250.2 809.8 L1252.2 807.3 L1254.3 798.4 L1256.3 798.2 L1258.4 797.8 L1260.4 795.9 L1262.4 794.7 L1264.5 795.6 L1266.5 793.9 L1268.6 792.8 L1270.6 793.4 L1272.7 791 L1274.7 788.3 L1276.7 790.3 L1278.8 787.8 L1280.8 787.5 L1282.9 787.4 L1284.9 786.4 L1286.9 786.9 L1289 788.5 L1291 787.8 L1292.8 788.3 L1294.6 786.4 L1296.5 787 L1298.3 786.2 L1300.1 786.3 L1301.9 786.3 L1303.7 786.5 L1305.5 788.6 L1307.3 786.9 L1309.4 788.1 L1311.4 786.8 L1313.5 785.2 L1315.5 784.8 L1317.6 785.2 L1319.6 783.7 L1321.4 785.1 L1323.3 784.5 L1325.2 784.1 L1327 782.7 L1328.9 784.1 L1330.7 784.8 L1332.6 784.6 L1334.4 782.3 L1336.3 784.4 L1338.1 783.2 L1340 783.7 L1320 784.5 L1322 783.4 L1324.1 786.2 L1326.1 785.3 L1328.2 785.6 L1330.2 783.6 L1332.2 784.9 L1334.3 786.2 L1336.3 786.7 L1338.4 786.7 L1340.4 786.3 L1342.4 786.7 L1344.5 785.7 L1347.8 786.1 L1349.8 468.6 L1352.2 685.7 L1354.7 779.6 L1357.6 791.8 L1360.8 798 L1363.3 791.8 L1365.7 787.8 L1368.2 802 L1371 810.2 L1373.9 795.9 L1377.1 778 L1379.2 780.8 L1381.2 781.6 L1384.5 778 L1387.3 776.3 L1390.2 782.9 L1393.5 787.8 L1395.5 789.7 L1397.6 790.8 L1399.6 792.7 L1401.6 794.8 L1403.7 795.8 L1405.7 795.9 L1407.8 796.5 L1409.8 793.9 L1411.8 793.9 L1414.1 797.3 L1416.3 797.6 L1418.2 798.9 L1420 800 L1422 800.2 L1424.1 796 L1426.1 795.9 L1428.2 796.8 L1430.2 795.5 L1432.2 793.9 L1434.6 794 L1436.9 796.9 L1439.2 796.7 L1441 796.6 L1442.9 797.3 L1444.7 799 L1446.5 800 L1448.4 799.9 L1450.2 801.6 L1452 803.8 L1453.9 803.3 L1456.2 804.2 L1458.5 804.5 L1460.8 804.1 L1462.9 803.3 L1464.9 804.2 L1466.9 803.9 L1469 802.4 L1471 802.6 L1473.1 802.9 L1475.1 802 L1477.1 800.4 L1479.2 799.7 L1481.2 798.2 L1483.3 799.2 L1485.1 799.3 L1486.9 799.5 L1488.8 797.4 L1490.6 797.6 L1493.1 797.5 L1495.5 796.7 L1497.7 799 L1499.9 799.9 L1502 800 L1503.9 799.4 L1505.9 802.1 L1507.8 803.3 L1509.8 801 L1511.8 800.7 L1513.9 802.5 L1515.9 800.8 L1518 799.8 L1520 799.7 L1522 798.5 L1524.1 798 L1526.1 795.6 L1528.2 794.3 L1530.2 791.8 L1532.2 523.7 L1534.3 685.7 L1536.3 813.1 L1538.4 812.9 L1540.4 814.2 L1542.4 815.5 L1544.5 815.6 L1546.5 813.7 L1548.6 812.2 L1551 791.8 L1552.9 783 L1554.7 775.5 L1556.7 773.4 L1558.8 773.4 L1560.8 773.5 L1563.3 778.2 L1565.7 781.6 L1568.4 784.5 L1571 787.8 L1573.7 785.2 L1576.3 781.6 L1578.8 780.6 L1581.2 777.6 L1583.3 776.8 L1585.3 779.2 L1587.3 777.5 L1589.4 779.6 L1591.8 783.8 L1594.3 785.7 L1597.6 789.8 L1599.6 782 L1601.6 781.8 L1603.7 782.9 L1605.7 784.5 L1607.8 786.9 L1609.8 785.7 L1611.8 786 L1613.9 787.8 L1615.9 789.3 L1618 788.5 L1620 789.7 L1622 788.6 L1624.1 788.5 L1626.1 789.2 L1628.2 791 L1630.2 789.8 L1632 791.1 L1633.9 794.1 L1635.7 792.7 L1637.6 795.1 L1639.9 797.9 L1642.2 797.2 L1644.5 800 L1646.5 799.4 L1648.6 796.9 L1650.6 798 L1652.7 795.9 L1654.7 797.6 L1656.7 795.1 L1659.4 796.4 L1662 798 L1664.5 800 L1666.9 800 L1669 799 L1671 799.2 L1673.1 798.2 L1675.1 799.5 L1677.1 799.2 L1679.2 800.2 L1681.2 798.7 L1683.3 798 L1685.3 799.7 L1687.3 798 L1689.4 799.1 L1691.4 798.1 L1693.5 795.9 L1695.5 797.6 L1697.6 796.7 L1699.6 796.7 L1701.6 798.2 L1703.7 796 L1705.7 796.9 L1707.8 796.6 L1709.8 795.6 L1711.8 795.9 L1700 798 L1702 797.7 L1704.1 797.9 L1706.1 798.3 L1708.2 796.6 L1710.2 795.8 L1712.2 795.9 L1714.7 795.1 L1716.3 413.1 L1716.5 996.7 L1718 767.3 L1720.4 662 L1722.4 693.9 L1724.5 726.5 L1726.9 746.9 L1728.6 738.8 L1730.6 743.7 L1732.7 746.9 L1735.1 758.4 L1736.7 759.2 L1738.8 742.9 L1740.8 734.7 L1742.9 742.4 L1744.9 746.9 L1746.9 751.6 L1749 759.2 L1751 761.5 L1753.1 761.6 L1755.1 763.1 L1757.1 763.3 L1759.6 765.9 L1762 768.2 L1764.7 769.6 L1767.3 771.4 L1769.4 772.3 L1771.4 772.8 L1773.5 771.4 L1776.7 765.3 L1779.6 761.2 L1782.2 766.1 L1784.9 769.4 L1787.3 773.3 L1789.8 775.5 L1791.8 774.9 L1793.9 777 L1795.9 777.3 L1798 779.6 L1800 781.9 L1802 782.6 L1804.1 780.8 L1806.1 782.9 L1808.2 783.4 L1810.2 783.7 L1812.2 782.1 L1814.3 783.6 L1816.3 785.1 L1818.4 784.5 L1820.4 785.2 L1822.4 784.2 L1824.5 786 L1826.5 784.6 L1828.6 785.7 L1830.6 785.7 L1832.8 786.7 L1835 789.8 L1837.1 789.4 L1839 790.7 L1841 792.1 L1842.9 791.8 L1844.9 792.8 L1846.9 792.2 L1849 794.6 L1851 794.2 L1853.1 794.5 L1855.1 794.3 L1857.1 793.8 L1859.2 793.7 L1861.2 795.4 L1863.3 796.5 L1865.3 796.6 L1867.3 795.9 L1869.4 795.1 L1871.4 794 L1873.5 795 L1875.5 795.8 L1877.6 793.1 L1879.6 793.9 L1881.6 794.9 L1883.7 793.1 L1885.7 793.7 L1887.8 793 L1889.8 794.7 L1891.7 794.1 L1893.7 794.5 L1895.6 796.6 L1897.6 795.1 L1899.2 764.1 L1901.2 903.3 L1903.3 849 L1904.9 812.2 L1908.2 832.7 L1910.6 836.7 L1913.1 837.6 L1915.7 838.1 L1918.4 840.8 L1920.4 836.1 L1922.4 832.7 L1924.5 833.9 L1926.5 831.1 L1928.6 831.8 L1930.6 830.9 L1932.7 831 L1934.7 829.6 L1936.7 830.6 L1940 824.5 L1942.9 818.4 L1945.2 816.1 L1947.5 815 L1949.8 813.9 L1951.6 812.6 L1953.5 813.6 L1955.3 810.3 L1957.1 810.2 L1959.2 809.2 L1961.2 811.6 L1963.3 810 L1965.3 810.2 L1967.3 810.4 L1969.4 808.8 L1971.4 807.3 L1973.5 807.2 L1975.5 804.5 L1977.6 804.1 L1979.6 801.9 L1981.6 802.9 L1983.7 800.9 L1985.7 800 L1987.8 800.5 L1989.8 801.1 L1991.8 801.7 L1993.9 800.3 L1995.9 800.9 L1998 801.6 L2000 803.1 L2002 801.9 L2004.1 801.1 L2006.1 802.3 L2008.2 801.2 L2010.2 802 L2012.2 803 L2014.3 800.5 L2016.3 803.2 L2018.4 802.3 L2020.4 801.5 L2022.4 802 L2024.5 803.5 L2026.5 801.2 L2028.6 801.2 L2030.6 800.6 L2032.7 802.2 L2034.7 802 L2036.9 803.4 L2039.2 803.7 L2041.4 803.3 L2043.7 804.1 L2045.5 805.6 L2047.3 803.8 L2049.2 805 L2051 806.1 L2053.1 804.4 L2055.1 801.6 L2057.1 801.4 L2059.2 798 L2061.2 798.7 L2063.3 799.1 L2065.3 799.6 L2067.3 798.6 L2069.4 799.2 L2071.4 800.8 L2073.5 800.3 L2075.5 799.1 L2077.6 799.5 L2079.6 800 L2078.8 800 L2080.6 800.6 L2081.8 965.9 L2084 806.1 L2086.7 770 L2088.6 784.7 L2090.4 794.5 L2092.8 803 L2095 806.1 L2097.7 804.3 L2099.3 803 L2100.2 754.7 L2102 755.4 L2103.9 754.1 L2106.9 761.7 L2110 769.4 L2111.8 773.4 L2113.7 778.5 L2115.6 781.3 L2117.6 786.2 L2119.6 789.8 L2121.6 790.8 L2123.5 792.4 L2125.3 793.8 L2127.6 794.4 L2129.9 794.8 L2132.2 795.6 L2134.5 795.4 L2136.8 797.2 L2139.1 796.3 L2141.4 795.4 L2143.7 796.9 L2145.5 798.5 L2147.3 801.2 L2150.4 803.6 L2152.2 802.5 L2154.1 804 L2155.9 804.6 L2159 803 L2162 801.5 L2164.1 801.8 L2166.1 803.3 L2168.1 802.4 L2170.2 803.2 L2172.2 803.1 L2174.3 803 L2176.3 802.5 L2178.3 802.9 L2180.4 802.4 L2182.2 801.5 L2184.1 803.2 L2185.9 802.8 L2187.7 802.8 L2189.6 801.5"/>
</g>
<g font-family="'Liberation Serif', serif" font-weight="bold" font-size="39.6" fill="#000" stroke="#fff" stroke-width="0.35">
<text transform="translate(936.6 940.4) scale(1 1.065)" text-anchor="end">0.1</text>
<text transform="translate(936.6 627.4) scale(1 1.065)" text-anchor="end">0.2</text>
<text transform="translate(936.6 314.4) scale(1 1.065)" text-anchor="end">0.3</text>
<text transform="translate(958.6 1135.6) scale(1 1.065)" text-anchor="middle">48000</text>
<text transform="translate(1285.1 1135.6) scale(1 1.065)" text-anchor="middle">50000</text>
<text transform="translate(1611.5 1135.6) scale(1 1.065)" text-anchor="middle">52000</text>
<text transform="translate(1938 1135.6) scale(1 1.065)" text-anchor="middle">54000</text>
</g>
<g fill="#a6a432" fill-opacity="0.45"><path d="M955.3 1085 L1007 1083 L996 1093 L1002 1109 Z"/><path d="M2192.3 1084.5 L2194 1133.5 L2183.5 1119.5 L2169.5 1128.5 Z"/></g>
</svg>
</body>
</html>
